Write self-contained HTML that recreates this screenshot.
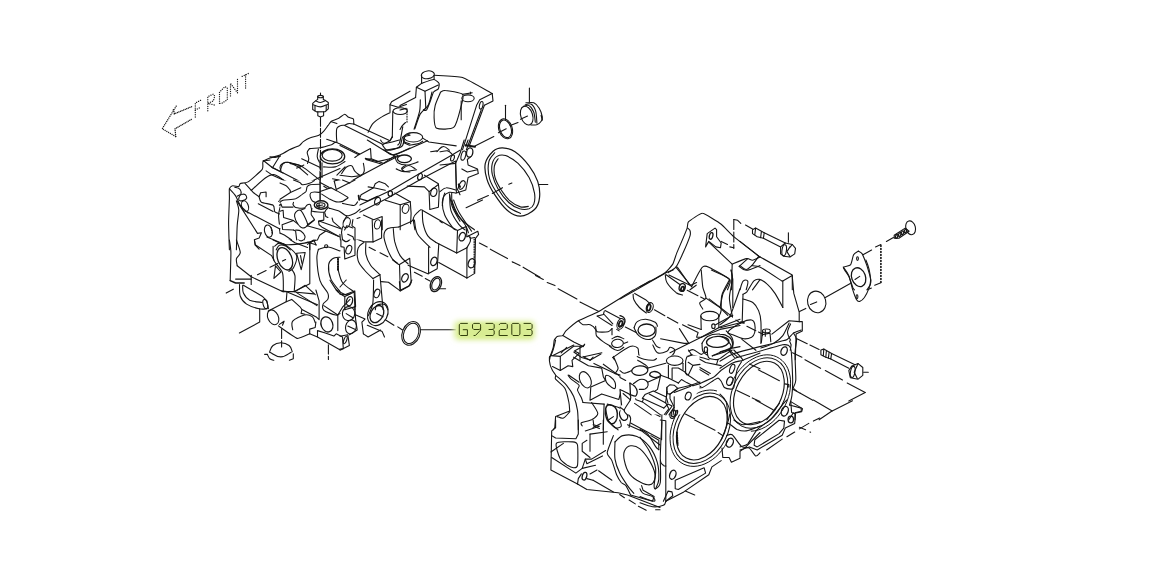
<!DOCTYPE html>
<html><head><meta charset="utf-8"><title>Cylinder Block Diagram</title>
<style>
html,body{margin:0;padding:0;background:#fff;overflow:hidden}
body{width:1153px;height:576px;position:relative;font-family:"Liberation Sans",sans-serif}
svg{position:absolute;left:0;top:0;display:block}
</style></head><body>
<svg width="1153" height="576" viewBox="0 0 1153 576">
<desc>Exploded parts diagram of an engine cylinder block. Labels: FRONT, G93203</desc>
<rect x="0" y="0" width="1153" height="576" fill="#ffffff"/>

<g fill="none" stroke="#151515" stroke-width="1.1" stroke-linecap="round" stroke-linejoin="round">
<path d="M176.2 106.1 L162.2 128.8 L175.8 136.6" stroke-width="1.35" stroke-dasharray="0.1 1.9" stroke="#1a1a1a"/>
<path d="M174.2 113.9 L191.9 106.6" stroke-width="1.35" stroke-dasharray="0.1 1.6" stroke="#1a1a1a"/>
<path d="M175.0 128.8 L191.9 119.1" stroke-width="1.35" stroke-dasharray="0.1 1.6" stroke="#1a1a1a"/>
<path d="M175.8 136.6 L175.0 128.8" stroke-width="1.35" stroke-dasharray="0.1 1.9" stroke="#1a1a1a"/>
<path d="M173.4 109.7 L175.0 114.7" stroke-width="1.35" stroke-dasharray="0.1 1.9" stroke="#1a1a1a"/>
<path d="M195.3 117.0 L195.3 103.0 L201.6 99.8" stroke-width="1.3" stroke-dasharray="0.1 2.1" stroke="#1a1a1a"/>
<path d="M195.3 110.0 L200.3 107.5" stroke-width="1.3" stroke-dasharray="0.1 2.1" stroke="#1a1a1a"/>
<path d="M207.8 110.8 L207.8 96.7 L213.3 94.1 L214.8 96.2 L213.3 100.9 L208.1 103.4 L215.3 105.3" stroke-width="1.3" stroke-dasharray="0.1 2.1" stroke="#1a1a1a"/>
<path d="M219.5 103.4 L219.5 92.0 L225.0 86.6 L227.3 88.1 L227.3 99.8 L222.2 103.0 L219.5 103.4" stroke-width="1.3" stroke-dasharray="0.1 2.1" stroke="#1a1a1a"/>
<path d="M230.5 95.9 L230.5 83.4 L237.5 92.8 L237.5 79.5" stroke-width="1.3" stroke-dasharray="0.1 2.1" stroke="#1a1a1a"/>
<path d="M242.2 76.4 L248.8 73.3" stroke-width="1.3" stroke-dasharray="0.1 2.1" stroke="#1a1a1a"/>
<path d="M245.6 74.8 L245.6 89.4" stroke-width="1.3" stroke-dasharray="0.1 2.1" stroke="#1a1a1a"/>
<path d="M320.5 93.1 L320.5 95.5"/>
<ellipse cx="320.5" cy="96.6" rx="2.8" ry="1.2"/>
<path d="M317.7 96.6 L317.7 99.4 L315.8 100.6 L312.7 103.3 L312.7 109.5 L316.6 111.9 L325.2 111.6 L328.3 108.8 L328.3 102.5 L325.6 100.6 L323.3 99.4 L323.3 96.6"/>
<path d="M313.4 104.8 C314.6 105.2 318.1 107.0 320.5 106.9 C322.8 106.8 326.3 104.8 327.5 104.4"/>
<path d="M315.8 100.9 C316.6 101.2 318.8 102.6 320.5 102.5 C322.1 102.4 324.8 100.9 325.6 100.6"/>
<path d="M315.0 105.9 L315.0 110.9"/>
<path d="M326.2 105.6 L326.2 110.6"/>
<path d="M317.8 111.9 L317.8 115.8 L320.5 116.9 L323.6 115.8 L323.6 111.9"/>
<path d="M320.5 117.3 L320.5 179.1" stroke-dasharray="9 2"/>
<path d="M290.0 149.4 C291.1 148.9 297.8 146.4 299.4 145.5 C300.9 144.6 302.0 142.5 303.3 141.6 C304.6 140.7 308.5 138.4 310.3 137.7 C312.1 136.9 317.4 136.0 318.9 135.3 C320.5 134.6 322.5 132.6 323.6 131.4 C324.7 130.2 327.4 126.3 328.3 125.2 C329.2 124.0 330.2 122.0 331.4 121.2 C332.6 120.5 336.9 119.3 338.4 118.4 C340.0 117.6 343.5 114.3 344.7 114.2 C345.9 114.1 347.6 116.8 348.6 117.3 C349.6 117.9 352.7 118.2 353.3 118.9 C353.9 119.6 353.7 123.0 353.8 123.6"/>
<path d="M336.9 142.3 C336.8 141.3 336.4 136.4 336.4 134.5 C336.4 132.7 336.3 129.5 336.9 128.3 C337.5 127.1 339.7 126.0 340.8 125.6 C341.8 125.2 343.6 125.4 344.7 125.2 C345.7 124.9 347.4 123.7 348.6 123.6 C349.8 123.4 353.1 124.0 353.8 124.1"/>
<path d="M331.4 121.7 L336.9 123.6"/>
<path d="M344.7 125.6 L383.0 144.4"/>
<path d="M353.8 124.1 L390.0 140.8 L392.3 136.9"/>
<ellipse cx="332.5" cy="156.4" rx="12.2" ry="7.5" stroke-width="1.3"/>
<ellipse cx="332.2" cy="155.3" rx="10.0" ry="5.8"/>
<path d="M318.4 149.1 C318.2 150.3 317.0 154.2 317.2 156.4 C317.3 158.6 319.0 161.2 319.4 162.2"/>
<path d="M322.0 162.7 L322.0 177.5"/>
<path d="M323.6 166.9 C325.5 166.9 331.7 167.8 335.3 166.9 C338.9 166.0 343.4 162.4 345.0 161.6"/>
<path d="M309.5 148.6 C310.5 148.5 317.5 148.2 319.7 147.8 C321.9 147.4 329.8 145.2 331.4 144.7 C333.0 144.1 334.5 142.4 335.3 142.3 C336.2 142.3 337.6 142.7 340.0 143.9 C342.4 145.1 357.6 153.0 359.5 154.1"/>
<path d="M365.3 158.4 L377.5 161.6 L390.0 158.8"/>
<path d="M326.7 139.2 L335.6 142.3"/>
<path d="M301.7 158.8 L319.7 167.3"/>
<path d="M309.5 148.6 C309.2 149.1 307.3 151.1 307.2 152.5 C307.1 153.9 308.7 157.3 308.8 158.8 C308.8 160.2 307.7 162.8 307.5 163.4"/>
<path d="M290.0 163.4 C291.2 163.7 297.4 164.6 299.4 165.3 C301.4 166.0 302.2 166.6 304.8 168.4 C307.4 170.3 317.0 177.9 318.9 179.4"/>
<path d="M359.5 154.1 L354.8 157.5"/>
<path d="M336.9 175.2 L345.0 166.9"/>
<path d="M371.2 158.8 L383.8 163.4 L399.4 155.6"/>
<path d="M390.0 111.9 L390.0 104.8 L391.6 101.7 L410.0 91.2"/>
<path d="M390.0 104.8 L398.1 107.2 L406.4 104.4"/>
<ellipse cx="400.2" cy="111.1" rx="7.2" ry="3.4"/>
<path d="M392.8 111.6 L392.3 136.9"/>
<path d="M368.1 132.2 C368.8 131.0 370.9 125.7 372.8 123.6 C374.7 121.5 379.9 118.0 382.2 116.6 C384.5 115.1 389.0 113.2 390.0 112.7"/>
<path d="M392.3 136.9 L390.0 140.8 L383.4 144.2"/>
<path d="M402.8 126.7 C402.5 128.4 401.5 134.1 400.9 136.9 C400.4 139.6 399.9 141.8 399.4 143.1 C398.9 144.5 398.1 144.7 397.8 145.0"/>
<path d="M382.2 144.7 C382.9 145.4 384.9 149.8 387.2 150.2 C389.5 150.5 397.3 148.8 399.4 147.0 C401.5 145.3 401.4 138.6 402.8 136.9 C404.2 135.1 409.0 134.2 410.0 133.8"/>
<path d="M383.8 149.7 C385.0 150.4 389.6 155.1 393.1 154.8 C396.6 154.6 407.8 149.0 410.0 148.1"/>
<path d="M410.0 135.3 C409.1 135.6 405.8 135.8 404.8 136.9 C403.9 137.9 403.2 140.4 404.1 141.6 C404.9 142.7 409.0 143.5 410.0 143.9"/>
<path d="M405.6 165.3 C405.0 165.8 402.0 167.1 401.7 168.1 C401.5 169.1 402.7 170.6 404.1 171.2 C405.4 171.9 409.0 171.9 410.0 172.0"/>
<path d="M390.0 158.8 L397.8 155.6"/>
<ellipse cx="427.8" cy="74.8" rx="6.6" ry="3.9" transform="rotate(-8 427.8 74.8)"/>
<path d="M421.6 75.6 L421.6 83.4"/>
<path d="M434.1 75.6 L434.1 79.5"/>
<path d="M434.4 75.3 C436.7 75.5 457.7 76.0 462.5 77.5 C467.3 79.0 489.7 92.3 492.2 93.6"/>
<path d="M492.2 93.6 L493.0 100.9 L484.4 105.3"/>
<path d="M492.2 93.6 L479.7 99.8 L476.6 105.3 L462.5 149.8"/>
<path d="M481.2 110.0 L466.4 149.8"/>
<path d="M484.4 105.3 L483.1 108.8 L469.5 145.2"/>
<ellipse cx="481.2" cy="105.3" rx="1.7" ry="3.9" transform="rotate(12 481.2 105.3)"/>
<path d="M421.6 83.4 L416.4 87.3 L415.6 97.5"/>
<path d="M421.6 83.4 C422.8 83.0 431.8 79.5 433.6 79.5 C435.3 79.5 438.6 82.5 439.1 83.4 C439.5 84.4 438.8 88.0 438.3 88.9 C437.7 89.8 434.4 90.9 433.6 92.0 C432.8 93.2 431.2 98.8 430.5 100.6 C429.8 102.4 427.3 109.1 426.6 110.0 C425.9 110.9 423.8 110.0 423.4 110.0"/>
<path d="M416.4 87.3 L425.0 91.2 L425.8 108.4 L423.4 110.0"/>
<path d="M425.0 91.2 L438.3 85.0"/>
<path d="M415.6 97.5 L400.0 105.6"/>
<path d="M420.3 99.8 C420.2 101.4 420.4 107.7 419.5 111.6 C418.7 115.5 414.8 126.7 414.1 129.1"/>
<path d="M432.0 92.0 C431.5 93.8 429.7 102.4 428.1 105.3 C426.6 108.2 422.1 110.8 420.3 113.9 C418.5 117.0 415.6 126.8 414.8 128.8"/>
<path d="M440.6 92.0 C441.2 91.8 442.8 90.2 445.3 90.5 C447.9 90.7 460.7 92.5 462.5 94.4 C464.3 96.3 461.9 103.0 460.9 106.9 C459.9 110.7 456.7 124.7 453.9 127.2 C451.1 129.7 439.0 129.4 436.7 128.3 C434.4 127.2 434.2 120.5 434.1 117.8 C433.9 115.1 434.4 108.3 435.2 105.3 C435.9 102.3 440.0 93.6 440.6 92.0"/>
<path d="M462.5 94.4 L472.2 92.8"/>
<path d="M470.3 92.0 L470.6 93.6"/>
<ellipse cx="468.0" cy="98.3" rx="6.2" ry="3.4"/>
<path d="M461.2 100.9 L461.2 119.7"/>
<ellipse cx="505.5" cy="128.8" rx="6.7" ry="10.3" transform="rotate(-18 505.5 128.8)" stroke-width="1.05"/>
<ellipse cx="505.5" cy="128.8" rx="5.6" ry="9.1" transform="rotate(-18 505.5 128.8)"/>
<path d="M505.5 105.3 L505.5 120.2"/>
<path d="M518.0 122.5 L510.2 125.6"/>
<path d="M506.2 128.8 L498.4 132.7"/>
<path d="M493.8 136.6 L475.0 145.9"/>
<ellipse cx="413.3" cy="137.3" rx="9.4" ry="4.7"/>
<path d="M422.7 138.1 L428.9 142.0 L456.2 145.9"/>
<path d="M400.0 110.0 L406.2 108.4"/>
<path d="M407.0 108.8 L407.0 122.5" stroke-dasharray="1 1.5"/>
<path d="M400.0 129.5 C400.4 128.9 401.4 126.8 402.3 125.6 C403.3 124.5 404.9 123.0 405.5 122.5"/>
<path d="M465.6 145.2 L475.0 146.7" stroke-width="2"/>
<path d="M403.9 138.1 L403.9 142.8 L409.4 145.2 L418.8 143.6 L422.7 141.2"/>
<path d="M529.4 88.0 L529.4 102.0"/>
<ellipse cx="526.7" cy="115.6" rx="5.9" ry="9.7" transform="rotate(-18 526.7 115.6)"/>
<path d="M523.6 106.2 C524.5 106.1 527.4 104.6 529.1 105.6 C530.8 106.6 532.7 109.4 533.8 112.2 C534.8 115.0 535.1 120.7 535.3 122.3"/>
<path d="M525.2 104.7 C526.1 104.6 529.2 103.0 530.9 104.1 C532.7 105.1 534.6 107.8 535.6 110.9 C536.6 114.1 536.7 121.1 536.9 123.1"/>
<path d="M525.9 102.8 C527.1 102.8 531.8 102.0 533.8 102.8 C535.7 103.6 537.9 106.2 539.2 108.3 C540.5 110.4 542.0 114.9 542.3 116.9 C542.6 118.8 542.1 120.1 541.2 121.2 C540.4 122.4 538.1 124.1 536.6 124.7 C535.0 125.2 531.8 125.0 530.9 125.0"/>
<path d="M541.2 115.3 L542.3 120.0" stroke-width="1.3"/>
<path d="M527.5 116.1 L520.5 119.2"/>
<path d="M493.1 151.2 C496.0 148.6 498.9 147.7 502.5 147.8 C506.1 147.9 510.6 148.7 515.0 151.7 C519.4 154.7 525.3 160.8 529.1 165.8 C532.8 170.7 535.9 176.1 537.7 181.4 C539.4 186.7 540.1 193.1 539.5 197.8 C539.0 202.5 537.7 206.5 534.5 209.5 C531.4 212.6 525.0 216.0 520.5 216.1 C515.9 216.2 511.5 213.9 507.2 210.3 C502.9 206.7 498.1 199.9 494.7 194.7 C491.3 189.5 488.4 184.3 486.9 179.1 C485.3 173.9 484.3 168.1 485.3 163.4 C486.4 158.8 490.3 153.9 493.1 151.2 Z" stroke-width="1.2"/>
<path d="M494.7 152.8 C493.7 154.3 489.6 157.5 488.8 161.9 C487.9 166.2 488.1 173.6 489.7 179.1 C491.2 184.5 494.9 190.0 498.1 194.7 C501.3 199.4 505.0 204.1 508.8 207.2 C512.5 210.3 518.5 212.4 520.5 213.4"/>
<path d="M497.0 156.4 C499.2 155.1 502.1 154.5 505.6 155.6 C509.1 156.8 514.2 159.8 518.1 163.4 C522.0 167.1 526.3 172.6 529.1 177.5 C531.8 182.4 533.8 188.7 534.5 193.1 C535.3 197.6 534.7 201.5 533.8 204.1 C532.8 206.7 531.4 208.0 529.1 208.8 C526.7 209.5 523.1 209.8 519.7 208.8 C516.3 207.7 512.4 205.9 508.8 202.5 C505.1 199.1 500.5 193.1 497.8 188.4 C495.1 183.8 493.3 178.5 492.3 174.4 C491.4 170.2 491.6 166.4 492.3 163.4 C493.1 160.4 494.8 157.7 497.0 156.4 Z"/>
<path d="M498.1 158.8 C497.5 159.9 494.9 162.7 494.4 165.8 C493.9 168.9 493.9 173.5 495.0 177.5 C496.1 181.5 498.7 186.0 501.2 190.0 C503.8 194.0 507.1 198.4 510.3 201.2 C513.5 204.1 517.5 206.0 520.5 206.9 C523.5 207.7 527.0 206.5 528.3 206.4"/>
<path d="M539.2 184.5 L547.8 184.5"/>
<path d="M511.9 183.0 L508.8 184.2"/>
<path d="M502.5 187.7 L492.3 193.4"/>
<path d="M488.4 195.5 L477.5 200.2"/>
<path d="M468.1 140.0 L465.8 146.2"/>
<ellipse cx="469.7" cy="152.5" rx="3.1" ry="4.7" transform="rotate(10 469.7 152.5)" stroke-width="1.3"/>
<ellipse cx="463.4" cy="155.6" rx="2.2" ry="4.7" transform="rotate(15 463.4 155.6)"/>
<ellipse cx="452.5" cy="158.0" rx="1.7" ry="3.1" transform="rotate(20 452.5 158.0)"/>
<path d="M440.0 151.7 C441.3 151.6 445.8 150.5 447.8 150.9 C449.8 151.4 451.5 153.8 452.2 154.4"/>
<path d="M464.2 140.0 L460.3 152.5 L455.6 163.4 L456.4 193.1 L465.8 190.0 L468.1 177.5 L478.3 173.6 L477.5 168.9 L468.1 165.0 L467.3 159.5 L471.2 156.4"/>
<path d="M440.0 165.0 L455.6 163.4"/>
<path d="M461.9 168.9 L467.3 172.0 L477.5 169.7"/>
<ellipse cx="461.9" cy="185.0" rx="2.5" ry="4.7" transform="rotate(30 461.9 185.0)"/>
<path d="M440.0 191.6 C441.0 190.9 443.6 187.9 446.2 187.7 C448.9 187.4 454.1 189.6 455.6 190.0"/>
<path d="M451.7 193.1 C451.8 194.7 451.1 198.3 452.5 202.5 C453.9 206.7 456.7 213.6 460.3 218.1 C464.0 222.7 472.0 227.9 474.4 229.8"/>
<path d="M449.7 194.7 C449.9 197.3 449.4 205.4 450.9 210.3 C452.4 215.3 456.4 221.1 458.8 224.4 C461.1 227.6 464.0 228.9 465.0 229.8"/>
<path d="M444.7 193.1 C444.3 194.7 442.3 198.9 442.3 202.5 C442.3 206.1 443.0 210.8 444.7 215.0 C446.4 219.2 450.7 225.0 452.5 227.5 C454.3 230.0 455.1 229.5 455.6 229.8"/>
<path d="M440.0 221.2 L442.3 222.8"/>
<path d="M340.0 145.5 L358.8 154.8 L370.5 148.6 L371.2 158.8 L365.8 159.5 L382.2 164.2"/>
<path d="M367.3 140.0 L383.8 150.2 L393.9 155.6"/>
<path d="M380.6 140.0 C381.3 140.6 381.4 143.4 384.5 143.4 C387.7 143.4 396.9 140.6 399.4 140.0"/>
<path d="M385.3 150.2 C387.9 149.6 397.8 148.7 400.9 147.0 C404.1 145.3 403.5 141.2 404.1 140.0"/>
<path d="M393.9 155.6 L415.0 146.2 L427.5 140.8"/>
<path d="M341.6 173.6 C342.3 172.6 344.6 168.6 346.2 167.3 C347.9 166.0 350.3 165.1 351.7 165.8 C353.2 166.4 353.4 169.7 354.8 171.2 C356.3 172.8 358.8 175.2 360.3 175.2 C361.9 175.2 363.7 173.2 364.2 171.2 C364.7 169.3 363.6 164.7 363.4 163.4"/>
<path d="M340.0 175.2 L351.7 176.7 L361.1 175.6 L382.2 164.2 L393.9 156.4"/>
<path d="M340.0 187.7 L361.1 175.6"/>
<ellipse cx="404.4" cy="158.8" rx="7.0" ry="3.8" stroke-width="1.3"/>
<path d="M402.5 168.9 C403.8 168.2 406.2 165.5 408.8 165.5 C411.3 165.5 414.0 168.2 415.3 168.9"/>
<path d="M436.9 151.7 C438.1 150.7 440.6 146.9 443.1 146.6 C445.6 146.2 448.1 149.4 449.4 150.2"/>
<path d="M394.7 156.4 C395.2 157.4 395.7 161.2 397.8 162.7 C399.9 164.1 403.8 165.1 407.2 165.0 C410.6 164.9 416.3 162.4 418.1 161.9"/>
<path d="M396.2 168.9 C397.6 169.3 400.7 171.4 404.1 171.6 C407.4 171.7 414.5 170.0 416.6 169.7"/>
<path d="M430.6 151.7 L436.9 150.9"/>
<path d="M349.4 209.5 L360.3 204.8 L391.6 190.0 L419.7 173.6 L449.4 156.4 L460.0 150.2"/>
<path d="M357.2 213.4 L386.9 198.6 L421.2 179.1 L455.6 161.1 L456.4 186.9 L460.0 194.7"/>
<ellipse cx="420.0" cy="176.7" rx="2.2" ry="3.4" transform="rotate(20 420.0 176.7)"/>
<ellipse cx="390.3" cy="193.6" rx="2.2" ry="2.7" stroke-width="1.3"/>
<ellipse cx="377.5" cy="201.2" rx="2.7" ry="3.9" transform="rotate(20 377.5 201.2)"/>
<path d="M359.5 198.6 L361.1 194.7 L373.6 187.7 L375.2 183.8 L379.1 181.4 L385.3 183.8 L388.4 186.9"/>
<path d="M368.1 186.9 L373.6 187.7 L385.3 190.3"/>
<path d="M359.5 198.6 L367.3 200.9 L377.5 196.2"/>
<path d="M340.0 193.1 L347.0 197.0 L341.6 202.5"/>
<path d="M347.0 197.0 L340.0 200.5"/>
<path d="M407.2 186.1 L424.4 186.9 L429.1 191.6 L429.8 209.5 L438.4 207.2 L439.2 192.3 L438.4 183.8 L424.4 175.2"/>
<path d="M429.1 191.6 L438.4 184.5"/>
<ellipse cx="433.8" cy="192.3" rx="3.0" ry="4.2" transform="rotate(15 433.8 192.3)"/>
<path d="M394.7 193.1 L410.3 201.7 L411.1 213.4 L410.6 223.6"/>
<path d="M385.3 200.2 L400.2 204.8 L410.3 201.7"/>
<path d="M400.2 204.8 L400.2 229.8"/>
<ellipse cx="405.6" cy="208.8" rx="3.3" ry="4.7" transform="rotate(15 405.6 208.8)"/>
<path d="M363.4 215.0 L373.6 219.7 L382.2 216.6 L382.2 229.8"/>
<ellipse cx="377.5" cy="224.4" rx="3.0" ry="4.7" transform="rotate(12 377.5 224.4)"/>
<ellipse cx="347.0" cy="223.6" rx="3.3" ry="5.5" transform="rotate(15 347.0 223.6)"/>
<path d="M340.0 218.1 C341.0 217.9 343.6 217.1 346.2 216.6 C348.9 216.0 354.1 215.3 355.6 215.0"/>
<path d="M355.6 215.0 L355.6 221.2 L349.4 229.8"/>
<path d="M442.3 205.6 C442.6 204.1 442.7 198.5 443.9 196.2 C445.1 194.0 447.4 192.9 449.4 192.3 C451.3 191.8 454.6 193.0 455.6 193.1"/>
<path d="M449.4 193.9 C449.9 196.1 450.7 202.6 452.5 207.2 C454.3 211.7 458.8 218.9 460.0 221.2"/>
<path d="M415.0 229.8 C414.7 227.9 412.9 221.1 413.4 218.1 C414.0 215.1 416.8 213.3 418.1 211.9 C419.4 210.4 420.7 209.9 421.2 209.5"/>
<path d="M458.8 184.5 L460.0 186.9" stroke-width="2"/>
<path d="M229.4 249.8 C229.3 247.1 228.6 227.6 228.6 222.5 C228.6 217.4 229.3 202.4 229.4 199.1 C229.5 195.7 229.1 190.2 229.4 188.9 C229.7 187.6 231.6 186.0 232.5 185.8 C233.4 185.5 238.0 186.8 238.8 186.6 C239.5 186.3 239.4 183.9 240.3 183.4 C241.2 183.0 245.9 183.3 248.1 181.9 C250.3 180.5 260.7 171.4 262.2 169.4 C263.7 167.3 262.2 162.5 263.0 161.6 C263.8 160.6 269.3 160.2 270.0 160.0"/>
<path d="M236.4 249.8 C236.5 246.6 236.9 230.9 237.2 225.6 C237.5 220.3 238.9 213.3 238.8 210.0 C238.6 206.7 236.7 202.1 236.4 200.9"/>
<path d="M229.4 188.9 C230.2 189.8 234.2 193.8 235.6 195.9 C237.1 198.1 238.6 203.0 240.3 205.3 C242.0 207.6 247.1 212.1 248.1 213.1"/>
<path d="M234.8 187.3 C235.6 187.6 238.5 187.9 239.5 188.9 C240.6 189.9 241.5 192.4 241.1 193.6 C240.7 194.8 237.8 195.8 237.2 196.2"/>
<path d="M240.3 195.2 C241.4 194.2 244.0 193.9 245.0 194.4 C246.0 194.9 247.0 197.2 246.6 198.3 C246.2 199.3 244.0 200.4 242.7 200.6 C241.4 200.9 239.1 200.8 238.8 199.8 C238.4 198.9 239.3 196.1 240.3 195.2 Z"/>
<ellipse cx="245.0" cy="206.1" rx="3.3" ry="5.5" transform="rotate(-20 245.0 206.1)"/>
<path d="M245.0 183.4 L253.6 192.8 L259.1 196.7 L260.6 192.8 L266.1 192.0 L266.1 196.7"/>
<path d="M259.1 196.7 C259.4 197.4 259.5 201.0 261.4 202.2 C263.3 203.3 271.4 204.1 273.1 205.3 C274.9 206.6 273.9 210.4 274.7 211.6 C275.5 212.7 278.8 213.6 279.4 213.9"/>
<path d="M258.3 203.8 L273.1 211.6"/>
<path d="M251.2 190.5 C253.1 188.8 262.2 180.1 265.3 178.0 C268.4 175.9 271.8 174.1 274.7 174.8 C277.6 175.6 285.1 181.1 287.2 183.4 C289.3 185.7 289.9 190.9 290.3 192.0"/>
<path d="M266.1 170.9 L273.1 175.6 L301.2 188.1"/>
<path d="M271.6 167.0 L305.2 184.2 L320.0 177.2 L340.0 168.6"/>
<path d="M280.9 170.9 C280.8 170.2 279.4 167.7 280.2 166.2 C280.9 164.8 283.2 162.7 285.6 162.3 C288.1 162.0 292.4 163.3 295.0 163.9 C297.6 164.6 301.0 165.5 301.2 166.2 C301.5 167.0 297.3 167.8 296.6 168.1"/>
<path d="M320.0 160.0 L320.0 192.0" stroke-dasharray="9 2"/>
<path d="M278.6 201.4 L301.2 188.1 L305.2 185.0"/>
<path d="M279.4 205.3 C280.8 204.6 289.0 200.4 291.9 199.1 C294.8 197.7 302.6 195.1 304.4 193.6 C306.2 192.1 306.4 187.7 307.5 186.6 C308.6 185.5 312.3 184.4 313.8 184.2 C315.2 184.0 319.3 184.9 320.0 185.0"/>
<ellipse cx="320.8" cy="205.3" rx="7.8" ry="5.3" stroke-width="1.3"/>
<ellipse cx="320.3" cy="205.0" rx="4.7" ry="2.7"/>
<path d="M320.0 192.8 L320.0 201.9" stroke-width="1.3"/>
<path d="M316.9 211.2 L316.9 213.4"/>
<path d="M323.1 212.3 L323.1 220.2"/>
<path d="M313.8 202.2 L310.6 199.1 L310.6 193.6 L315.3 192.0 L320.0 192.0"/>
<path d="M280.9 203.0 C281.1 203.5 280.8 206.9 282.5 206.9 C284.2 206.9 291.9 203.0 293.4 203.0 C295.0 203.0 293.4 206.1 294.2 206.9 C295.1 207.6 298.0 208.6 299.7 208.4 C301.4 208.2 305.3 205.6 306.7 205.3 C308.2 205.0 310.1 206.0 310.6 206.1"/>
<path d="M280.2 206.9 C279.9 208.2 278.7 211.8 278.6 214.7 C278.5 217.6 279.2 222.5 279.4 224.1"/>
<path d="M283.3 210.0 L283.3 217.8 L292.7 220.2 L282.5 224.1 L282.5 229.5 L293.4 228.8"/>
<path d="M295.0 213.1 C295.5 211.2 299.6 210.7 301.2 210.0 C302.9 209.3 304.3 208.0 305.9 208.4 C307.6 208.9 310.8 211.5 312.2 213.1 C313.6 214.8 316.0 217.7 315.3 219.4 C314.6 221.0 309.1 222.9 307.5 224.1 C305.9 225.2 305.8 227.4 304.4 227.2 C303.0 227.0 299.5 224.6 298.1 222.5 C296.7 220.4 294.5 215.0 295.0 213.1 Z"/>
<path d="M300.5 210.8 C301.4 212.3 305.2 217.4 305.9 220.2 C306.7 222.9 305.3 226.0 305.2 227.2"/>
<path d="M246.6 211.6 L279.4 228.8 L293.4 228.8 L304.4 233.4 L327.8 229.5"/>
<path d="M237.2 201.4 L257.5 233.4 L261.4 232.7 L259.1 238.1 L254.4 239.7 L255.2 245.2 L259.1 249.1"/>
<ellipse cx="268.4" cy="231.1" rx="3.8" ry="6.2" transform="rotate(-15 268.4 231.1)"/>
<path d="M270.8 227.2 L272.3 233.4" stroke-dasharray="1 1.5"/>
<path d="M279.4 228.8 L280.2 233.4 L295.0 242.8 L307.5 247.5"/>
<path d="M266.9 236.9 L285.6 244.7"/>
<ellipse cx="299.7" cy="235.0" rx="3.8" ry="6.2" transform="rotate(-25 299.7 235.0)"/>
<path d="M307.5 244.4 C309.1 243.3 314.8 239.9 316.9 238.1 C319.0 236.3 319.5 234.2 320.0 233.4"/>
<path d="M309.8 249.8 L309.8 242.8 L313.8 239.7 L316.1 245.2"/>
<path d="M320.0 220.9 L326.2 220.2 L340.0 227.2"/>
<path d="M318.4 222.5 L321.6 227.2 L340.0 236.6"/>
<path d="M320.0 193.6 L340.0 202.2"/>
<path d="M323.1 191.2 L340.0 199.1"/>
<path d="M321.6 187.3 L329.4 189.7"/>
<path d="M332.5 178.8 L340.0 180.3"/>
<path d="M335.6 180.3 L336.4 188.1"/>
<path d="M340.0 206.9 L329.4 205.3"/>
<path d="M327.8 214.7 L340.0 220.9"/>
<path d="M332.5 219.4 C333.0 220.2 334.4 223.0 335.6 224.1 C336.9 225.1 339.3 225.4 340.0 225.6"/>
<path d="M276.2 249.8 C276.8 249.1 277.8 245.8 279.4 245.2 C280.9 244.5 283.8 245.2 285.6 245.9 C287.4 246.7 289.5 249.2 290.3 249.8"/>
<path d="M263.0 161.0 C263.9 160.6 267.7 158.8 270.0 158.0 C272.3 157.2 277.3 156.1 280.0 155.0 C282.7 153.9 288.7 150.2 290.0 149.5"/>
<path d="M263.4 160.5 L272.5 167.7 L283.0 173.0"/>
<path d="M279.0 157.3 L272.5 167.7"/>
<path d="M280.4 170.3 C280.7 169.4 281.8 164.8 283.0 163.8 C284.2 162.8 287.4 162.1 289.5 162.5 C291.6 162.9 296.7 166.7 298.6 167.0 C300.5 167.3 303.1 165.3 303.8 165.0"/>
<path d="M298.6 167.0 L307.7 174.9"/>
<path d="M270.0 156.8 L275.0 157.4 L280.4 156.0" stroke-width="1.3"/>
<path d="M229.4 240.0 C229.5 241.2 230.9 248.4 230.9 252.5 C231.0 256.6 230.2 277.8 230.2 280.6"/>
<path d="M230.2 280.6 L235.6 283.0 L244.2 283.0" stroke-width="1.4"/>
<path d="M236.4 240.0 C236.9 241.7 240.3 250.0 240.3 252.5 C240.3 255.0 236.8 257.0 236.4 258.8 C236.0 260.5 237.1 264.8 237.2 265.8"/>
<path d="M237.2 265.8 L251.2 276.7 L282.5 291.6 L295.0 291.6 L316.9 305.6"/>
<path d="M235.6 279.1 L251.2 279.1"/>
<path d="M251.2 275.2 L251.2 284.5"/>
<path d="M239.5 284.5 C239.7 286.5 239.1 293.0 240.3 296.2 C241.5 299.5 243.4 302.0 246.6 304.1 C249.7 306.1 255.7 308.0 259.1 308.8 C262.4 309.5 265.6 308.8 266.9 308.8"/>
<path d="M242.7 285.3 C242.8 286.6 242.3 290.7 243.4 293.1 C244.6 295.6 246.6 298.6 249.7 300.2 C252.8 301.7 260.1 302.1 262.2 302.5"/>
<path d="M243.4 285.3 L262.2 296.2 L266.9 300.9 L268.4 308.8"/>
<ellipse cx="265.3" cy="304.1" rx="2.2" ry="4.7" transform="rotate(-15 265.3 304.1)"/>
<path d="M285.6 259.5 L282.5 261.1"/>
<path d="M277.8 263.4 L270.0 267.3"/>
<path d="M266.1 270.5 L257.5 274.7"/>
<path d="M233.3 289.2 L226.2 293.1"/>
<ellipse cx="284.8" cy="258.8" rx="7.0" ry="11.7" transform="rotate(-22 284.8 258.8)" stroke-width="1.3"/>
<path d="M273.1 246.2 C273.2 248.1 272.7 256.8 273.9 260.3 C275.2 263.9 281.2 268.6 282.5 272.8 C283.8 277.0 283.2 289.1 283.3 291.6"/>
<path d="M274.7 246.2 C275.5 245.7 277.3 243.1 279.4 243.1 C281.5 243.1 284.3 244.2 287.2 246.2 C290.1 248.3 295.5 252.0 296.6 255.6 C297.6 259.3 294.7 265.5 293.4 268.1 C292.1 270.7 289.5 270.7 288.8 271.2"/>
<path d="M291.9 269.7 C292.4 270.7 294.6 272.3 295.0 275.9 C295.4 279.6 294.3 289.0 294.2 291.6"/>
<path d="M296.6 253.3 L305.2 252.5 L301.2 269.7 Z"/>
<path d="M300.5 255.6 L302.0 263.4"/>
<path d="M273.9 278.3 L275.5 265.8 L280.9 272.0 Z"/>
<path d="M254.4 240.0 L255.2 244.7 L271.6 255.6 L273.9 260.3"/>
<path d="M309.8 243.1 L309.8 283.8 L294.2 291.6"/>
<path d="M295.0 291.6 L305.2 285.3 L315.3 294.7"/>
<path d="M296.6 292.3 L313.8 293.9"/>
<ellipse cx="273.1" cy="317.3" rx="5.2" ry="7.8" transform="rotate(-25 273.1 317.3)"/>
<path d="M279.4 324.4 L284.1 321.2 L282.5 325.2"/>
<path d="M292.7 329.8 C292.7 328.4 290.7 323.7 292.7 321.2 C294.6 318.8 301.1 315.8 304.4 315.0 C307.6 314.2 310.4 315.3 312.2 316.6 C314.0 317.9 314.8 321.8 315.3 322.8"/>
<path d="M318.4 249.4 C318.2 250.9 316.6 253.5 316.9 258.8 C317.1 264.0 318.2 274.9 320.0 280.6 C321.8 286.4 326.5 290.0 327.8 293.1 C329.1 296.2 328.6 297.6 327.8 299.4 C327.0 301.2 323.8 302.2 323.1 304.1 C322.5 305.9 321.8 308.5 323.9 310.3 C326.0 312.1 332.9 314.5 335.6 315.0 C338.3 315.5 339.3 313.7 340.0 313.4"/>
<path d="M318.4 249.4 C320.0 249.0 324.2 246.8 327.8 247.0 C331.4 247.3 338.0 250.3 340.0 250.9"/>
<ellipse cx="326.2" cy="246.2" rx="1.6" ry="1.4"/>
<path d="M340.0 257.2 C338.8 257.4 334.4 257.4 332.5 258.8 C330.6 260.1 328.9 261.6 328.6 265.0 C328.3 268.4 329.0 274.6 330.9 279.1 C332.8 283.5 338.5 289.5 340.0 291.6"/>
<path d="M338.0 258.8 L338.0 269.7" stroke-width="2" stroke-dasharray="1 1.5"/>
<path d="M273.1 240.0 C274.8 240.6 281.5 244.3 285.6 244.7 C289.8 245.1 300.2 243.8 304.4 243.1 C308.5 242.5 315.2 240.4 316.9 240.0"/>
<path d="M307.5 242.3 L316.1 244.7"/>
<path d="M355.0 220.0 L355.0 255.2 L344.8 259.1 L344.1 247.3 L340.9 246.6 L340.9 235.6 L345.6 224.7 L345.6 220.0"/>
<ellipse cx="348.0" cy="233.3" rx="4.7" ry="8.6" transform="rotate(20 348.0 233.3)" stroke-width="1.3"/>
<ellipse cx="348.8" cy="249.7" rx="2.7" ry="4.4" transform="rotate(20 348.8 249.7)"/>
<path d="M330.0 224.7 L339.4 227.0"/>
<path d="M372.2 220.0 L373.0 241.9 L381.6 238.0 L381.6 220.0"/>
<path d="M355.8 238.8 L364.4 241.9 L373.0 241.9"/>
<path d="M363.6 242.7 C362.7 243.6 359.0 245.1 358.1 248.1 C357.2 251.1 357.1 257.0 358.1 260.6 C359.2 264.3 361.9 267.0 364.4 270.0 C366.8 273.0 371.5 277.2 373.0 278.6"/>
<path d="M365.9 242.7 C365.9 244.6 365.2 250.6 365.9 254.4 C366.7 258.2 368.3 261.9 370.6 265.3 C373.0 268.7 378.4 273.1 380.0 274.7"/>
<path d="M373.0 278.6 L380.0 274.7 L381.6 293.4 L383.1 309.8"/>
<ellipse cx="376.9" cy="293.4" rx="2.7" ry="4.4" transform="rotate(20 376.9 293.4)"/>
<path d="M398.8 227.0 C396.9 227.3 390.3 227.2 387.8 228.6 C385.3 230.0 384.0 232.4 383.9 235.6 C383.8 238.9 385.6 244.2 387.0 248.1 C388.5 252.0 390.5 256.3 392.5 259.1 C394.5 261.8 397.7 263.6 398.8 264.5"/>
<path d="M393.3 228.6 C393.5 230.8 393.7 237.3 394.8 241.9 C396.0 246.4 398.1 252.3 400.3 255.9 C402.5 259.6 406.8 262.4 408.1 263.8"/>
<path d="M398.8 227.0 L411.2 221.6 L412.8 220.0"/>
<path d="M399.5 264.5 L409.7 258.3 L411.2 282.5 L409.7 285.6 L400.3 290.3 Z"/>
<ellipse cx="405.0" cy="277.8" rx="3.0" ry="4.4" transform="rotate(25 405.0 277.8)" stroke-width="1.3"/>
<path d="M414.4 220.0 C414.9 222.3 414.9 229.5 417.5 234.1 C420.1 238.6 427.9 245.1 430.0 247.3"/>
<ellipse cx="433.9" cy="261.4" rx="3.0" ry="4.4" transform="rotate(20 433.9 261.4)" stroke-width="1.3"/>
<path d="M408.1 265.3 L428.4 273.9"/>
<path d="M369.1 247.3 L375.3 250.5"/>
<path d="M380.0 252.8 L387.8 256.7"/>
<path d="M392.5 259.8 L397.2 263.0"/>
<path d="M414.4 272.3 L422.2 276.2"/>
<path d="M425.3 278.6 L430.0 280.9"/>
<ellipse cx="435.9" cy="284.1" rx="5.3" ry="7.8" transform="rotate(22 435.9 284.1)" stroke-width="1.3"/>
<ellipse cx="435.9" cy="284.1" rx="3.8" ry="6.2" transform="rotate(22 435.9 284.1)"/>
<path d="M439.4 288.8 L445.6 288.8"/>
<path d="M337.8 268.4 C338.6 270.8 339.8 278.6 342.5 282.5 C345.2 286.4 352.3 290.3 354.2 291.9"/>
<path d="M330.0 280.2 C331.3 282.1 335.3 289.1 337.8 291.9 C340.3 294.6 343.7 295.8 344.8 296.6"/>
<path d="M344.8 309.8 L344.8 296.6 L354.2 291.9 L355.0 309.8"/>
<ellipse cx="349.5" cy="301.2" rx="3.0" ry="4.7" transform="rotate(15 349.5 301.2)" stroke-width="1.3"/>
<path d="M375.3 309.8 C375.6 309.1 375.3 306.1 376.9 305.2 C378.4 304.2 382.9 303.6 384.7 304.4 C386.5 305.2 387.3 308.9 387.8 309.8"/>
<path d="M422.3 210.2 L457.5 230.5 L466.1 226.6 L466.9 236.7"/>
<path d="M422.3 210.2 C422.5 212.4 422.2 219.1 423.1 223.4 C424.0 227.7 425.7 232.8 427.8 235.9 C429.9 239.1 434.3 241.1 435.6 242.2"/>
<path d="M435.6 242.2 L456.7 253.1 L466.9 247.7"/>
<path d="M466.9 247.7 C467.4 246.6 469.8 243.2 470.3 241.4 C470.8 239.6 470.1 237.5 470.0 236.7"/>
<path d="M457.5 230.5 L456.7 253.1"/>
<ellipse cx="462.2" cy="236.7" rx="3.0" ry="4.4" transform="rotate(20 462.2 236.7)" stroke-width="1.3"/>
<path d="M451.2 200.0 C452.0 202.1 453.6 208.3 455.9 212.5 C458.3 216.7 463.2 221.6 465.3 225.0 C467.4 228.4 467.9 231.5 468.4 232.8"/>
<path d="M453.6 200.0 C454.5 202.1 456.1 207.3 459.1 212.5 C462.1 217.7 469.5 228.1 471.6 231.2"/>
<path d="M466.9 236.7 L477.8 231.2 L478.6 234.4 L475.5 238.3 L474.7 273.4 L466.9 278.1 L466.9 247.7"/>
<path d="M468.4 235.9 L470.8 238.3 L474.7 237.5"/>
<path d="M474.2 239.1 L474.2 272.7" stroke-width="1.3" stroke-dasharray="1 1.5"/>
<ellipse cx="471.6" cy="263.3" rx="3.3" ry="4.7" transform="rotate(20 471.6 263.3)" stroke-width="1.3"/>
<path d="M428.6 246.9 L428.6 273.4 L437.2 268.8 L438.8 243.8"/>
<path d="M438.8 262.5 L466.9 278.1"/>
<path d="M466.1 207.8 L482.5 200.0"/>
<path d="M479.4 243.0 L487.2 246.9"/>
<path d="M490.3 249.2 L507.5 258.6"/>
<path d="M512.2 261.7 L520.0 265.6"/>
<path d="M523.1 267.2 L540.0 277.3"/>
<path d="M259.7 308.8 L259.7 322.0 L239.4 333.0"/>
<path d="M268.3 311.1 L286.2 301.7 L287.0 291.6 L281.6 290.8"/>
<path d="M278.4 325.9 C279.7 326.8 295.1 337.9 297.2 338.4 C299.3 339.0 308.9 334.1 309.7 333.8"/>
<path d="M309.7 333.8 L309.7 329.1 L315.2 327.5 L315.9 322.0"/>
<path d="M286.2 301.7 L291.7 299.4 L300.3 307.2 L301.9 309.5 L316.7 317.3 L319.1 319.7 L319.1 300.9 L315.9 290.0"/>
<path d="M301.9 309.5 L301.1 313.4 L305.0 314.2"/>
<path d="M287.8 292.3 L317.5 304.8"/>
<path d="M281.6 329.1 L281.6 338.4"/>
<path d="M281.6 340.8 L281.6 347.0"/>
<path d="M328.4 344.7 L328.4 354.1"/>
<path d="M328.4 356.4 L328.4 359.5"/>
<path d="M269.5 352.2 C270.3 350.6 270.3 347.7 273.0 345.5 C275.6 343.3 277.0 342.8 280.8 342.8 C284.5 342.8 286.4 343.4 289.1 345.5 C291.7 347.5 291.5 350.3 292.2 351.7"/>
<path d="M270.3 352.5 C272.8 353.5 275.9 356.9 280.8 356.9 C285.7 356.8 288.8 353.3 291.2 352.2"/>
<path d="M267.5 354.8 C267.9 355.5 268.8 357.8 269.8 358.8 C270.9 359.7 273.1 360.1 273.8 360.3"/>
<path d="M293.3 353.8 L293.3 358.8 L289.4 360.3"/>
<path d="M264.7 354.4 L267.5 354.4"/>
<ellipse cx="326.9" cy="324.4" rx="5.8" ry="7.8" transform="rotate(-20 326.9 324.4)" stroke-width="1.3"/>
<path d="M317.5 330.6 L317.5 336.9 L339.4 349.4 L343.3 348.6 L342.5 336.9 L336.2 333.8 L333.9 336.1 L325.3 333.0 Z"/>
<path d="M309.7 333.8 L317.5 336.9"/>
<ellipse cx="345.3" cy="340.0" rx="1.4" ry="3.9" transform="rotate(20 345.3 340.0)"/>
<path d="M323.8 305.6 L337.8 315.0 L342.5 307.2 L350.0 299.4"/>
<path d="M337.8 315.0 L337.8 330.6"/>
<path d="M336.2 290.0 C337.8 290.8 343.3 294.0 345.6 294.7 C347.9 295.3 349.3 294.0 350.0 293.9"/>
<ellipse cx="411.1" cy="333.4" rx="8.8" ry="12.3" transform="rotate(22 411.1 333.4)" stroke-width="1.05"/>
<ellipse cx="411.1" cy="333.4" rx="7.2" ry="10.6" transform="rotate(22 411.1 333.4)" stroke-width="1"/>
<path d="M420.5 329.7 L455.6 329.7"/>
<ellipse cx="377.8" cy="313.6" rx="9.7" ry="12.5" transform="rotate(28 377.8 313.6)"/>
<ellipse cx="376.9" cy="314.1" rx="6.2" ry="9.1" transform="rotate(28 376.9 314.1)" stroke-width="1.3"/>
<path d="M376.7 313.6 L383.0 316.7"/>
<path d="M373.6 280.0 C373.5 283.1 373.5 298.6 372.8 303.4 C372.1 308.2 368.8 314.3 368.1 315.9"/>
<path d="M381.4 281.6 L388.4 282.3 L400.2 290.9 L408.8 286.2 L411.9 280.0"/>
<path d="M399.4 281.6 L400.2 290.9"/>
<path d="M385.3 319.8 L393.9 325.3"/>
<path d="M397.8 326.9 L402.5 330.0"/>
<path d="M367.3 325.3 L382.2 331.6 L384.5 337.0"/>
<path d="M363.4 333.9 L368.1 337.0 L380.6 330.0"/>
<path d="M354.8 314.4 L365.0 319.1 L361.9 322.2 L363.4 333.9"/>
<ellipse cx="348.6" cy="313.6" rx="6.2" ry="7.0" transform="rotate(10 348.6 313.6)"/>
<ellipse cx="350.9" cy="326.9" rx="5.3" ry="7.0" transform="rotate(15 350.9 326.9)"/>
<path d="M340.0 294.1 L344.7 294.8 L354.8 290.9 L355.6 306.6 L344.7 309.7"/>
<path d="M340.0 287.0 L346.2 280.0"/>
<path d="M340.0 336.2 L347.8 334.7 L349.4 345.6 L340.0 350.3"/>
<path d="M354.8 306.6 L355.6 319.1 L357.2 330.0 L349.4 334.7"/>
<path d="M346.2 313.6 L352.5 317.5"/>
<path d="M347.8 326.1 L354.8 329.2"/>
<path d="M535.5 275.5 L543.3 279.4"/>
<path d="M547.2 282.5 L555.0 285.6"/>
<path d="M558.1 288.8 L576.9 298.9"/>
<path d="M580.0 302.0 L598.8 311.4"/>
<path d="M625.3 327.0 L636.2 332.5"/>
<path d="M650.0 280.9 C648.9 281.6 636.5 288.3 633.1 290.3 C629.7 292.3 602.4 309.4 598.8 311.4 C595.1 313.4 580.6 319.5 578.4 320.8 C576.2 322.1 567.0 329.9 565.9 330.9 C564.9 331.9 563.4 335.3 562.8 335.6 C562.2 336.0 557.9 336.1 557.3 336.4 C556.8 336.7 554.5 339.6 554.2 340.3 C554.0 341.0 553.7 345.5 553.4 346.6 C553.2 347.6 550.6 355.1 550.3 355.9 C550.1 356.8 549.6 359.6 549.5 359.8"/>
<path d="M578.4 320.8 C579.1 321.3 581.6 324.2 583.1 324.7 C584.7 325.2 588.5 324.1 590.2 324.7 C591.8 325.3 594.8 327.9 595.6 329.4 C596.5 330.8 595.4 334.0 596.4 335.6 C597.4 337.3 601.5 340.4 603.4 341.9 C605.4 343.3 610.2 345.9 611.2 346.6"/>
<path d="M595.6 326.2 C595.8 327.0 595.5 331.0 597.2 331.7 C598.9 332.4 606.1 332.1 608.1 331.7 C610.1 331.3 611.5 329.0 612.0 328.6"/>
<path d="M612.0 328.6 L612.0 334.8"/>
<path d="M597.2 316.1 L603.4 314.5 L604.2 311.4"/>
<path d="M597.2 316.1 L612.0 325.5"/>
<path d="M604.2 314.5 L612.8 323.9"/>
<path d="M605.0 310.6 L620.6 318.8"/>
<ellipse cx="620.6" cy="323.9" rx="3.3" ry="5.5" transform="rotate(20 620.6 323.9)"/>
<ellipse cx="620.6" cy="323.9" rx="1.6" ry="3.1" transform="rotate(20 620.6 323.9)" stroke-width="1.8"/>
<path d="M616.7 329.4 L619.1 330.9"/>
<ellipse cx="617.5" cy="343.4" rx="5.9" ry="4.1" transform="rotate(-5 617.5 343.4)"/>
<path d="M612.0 338.8 C613.1 338.3 615.2 336.4 617.5 336.4 C619.8 336.4 622.5 338.3 623.8 338.8"/>
<path d="M609.7 346.6 C611.2 347.3 614.7 350.3 617.5 350.5 C620.3 350.6 622.5 348.0 623.8 347.3"/>
<path d="M633.1 294.2 C633.3 295.1 632.9 297.5 633.9 299.7 C634.9 301.9 637.3 305.3 639.4 307.5 C641.5 309.7 645.2 312.1 646.4 313.0"/>
<path d="M634.7 293.4 L645.6 299.7 L650.0 303.6"/>
<ellipse cx="648.8" cy="307.5" rx="1.7" ry="3.1" transform="rotate(15 648.8 307.5)" stroke-width="1.8"/>
<path d="M562.8 335.6 L573.8 341.9 L583.1 346.6 L584.7 344.2"/>
<path d="M553.4 355.2 L573.8 345.0"/>
<path d="M561.2 352.8 L566.7 347.3"/>
<path d="M573.8 352.0 L581.6 357.5 L589.4 359.8"/>
<path d="M583.9 356.7 L601.9 352.8"/>
<path d="M580.0 346.6 L580.0 359.8"/>
<path d="M612.8 357.5 C615.1 356.0 626.7 347.8 630.0 346.6 C633.3 345.3 636.6 346.9 637.8 348.1 C639.1 349.4 637.8 354.4 639.4 355.9 C641.0 357.5 648.6 359.3 650.0 359.8"/>
<path d="M614.4 359.8 L612.8 357.5"/>
<path d="M623.8 343.4 L627.7 341.9"/>
<path d="M640.0 286.7 C641.7 285.8 662.8 274.2 665.0 272.7 C667.2 271.1 672.0 265.4 672.8 264.1 C673.6 262.8 675.8 255.5 676.7 253.1 C677.7 250.8 686.1 231.0 686.9 228.9 C687.7 226.8 687.4 222.9 688.4 221.9 C689.5 220.8 700.3 213.1 702.5 213.3 C704.7 213.4 719.2 222.7 721.2 224.2 C723.3 225.8 731.2 234.5 733.8 236.7 C736.3 238.9 758.2 255.7 760.0 257.0"/>
<path d="M668.1 272.7 C668.9 272.1 674.5 269.1 675.9 267.2 C677.4 265.2 681.6 256.2 683.0 253.1 C684.4 250.0 689.3 238.2 690.0 235.9 C690.7 233.7 690.2 231.2 690.0 230.5 C689.8 229.7 687.9 228.4 687.7 228.1"/>
<path d="M668.9 275.0 L690.0 285.2 L677.5 267.2"/>
<path d="M675.9 267.2 L691.6 286.7"/>
<ellipse cx="682.2" cy="287.5" rx="3.0" ry="3.9" transform="rotate(15 682.2 287.5)" stroke-width="1.3"/>
<path d="M707.2 233.6 L715.0 228.1 L716.6 229.7 L716.6 236.7 L721.2 243.0 L720.5 247.7 L715.8 246.9 L708.8 241.4 L705.6 246.9 Z"/>
<ellipse cx="711.1" cy="235.9" rx="1.7" ry="3.4" transform="rotate(15 711.1 235.9)" stroke-width="1.3"/>
<path d="M733.8 219.5 L733.8 248.4" stroke-dasharray="10 2.5"/>
<path d="M733.8 219.5 L737.7 220.3 L740.8 223.4"/>
<path d="M729.8 246.9 L733.8 247.7"/>
<path d="M721.2 241.4 L727.5 244.5"/>
<path d="M745.5 225.0 L752.5 228.9"/>
<path d="M708.8 242.2 L732.2 264.1 L731.4 289.8"/>
<path d="M732.2 264.1 C734.1 263.3 743.5 259.1 746.2 258.6 C749.0 258.1 750.7 260.4 752.5 260.2 C754.3 259.9 759.0 257.4 760.0 257.0"/>
<path d="M739.2 266.4 L747.8 258.6"/>
<path d="M739.2 266.4 C740.4 267.1 742.8 270.4 746.2 270.3 C749.7 270.2 757.7 266.4 760.0 265.6"/>
<path d="M691.6 286.7 C692.4 285.1 699.0 272.3 700.2 270.3 C701.3 268.3 702.4 266.7 703.3 266.4 C704.1 266.1 706.1 265.9 708.8 267.2 C711.4 268.5 728.0 277.4 729.8 279.7 C731.7 282.0 727.7 288.8 727.5 289.8"/>
<path d="M690.0 289.8 L696.2 285.2"/>
<path d="M740.0 289.8 C740.6 288.1 741.6 283.0 743.1 281.2 C744.7 279.5 747.2 279.5 747.8 281.2 C748.4 283.0 746.6 288.1 746.2 289.8"/>
<path d="M752.5 289.8 L760.0 279.7"/>
<path d="M752.5 229.7 L755.6 228.1 L764.2 232.8 L763.4 238.3 L757.2 236.7 L752.5 233.6 Z"/>
<path d="M755.6 228.1 L754.8 234.7"/>
<path d="M761.4 231.6 L760.6 237.8"/>
<path d="M764.2 232.8 L785.3 243.0"/>
<path d="M763.4 238.3 L780.6 246.9"/>
<path d="M780.6 246.9 L785.3 243.0 L792.3 244.5 L795.5 248.4 L794.7 253.9 L790.0 257.0 L783.8 256.2 L780.6 253.9 Z"/>
<ellipse cx="784.2" cy="250.3" rx="2.2" ry="5.6" transform="rotate(8 784.2 250.3)"/>
<path d="M790.0 246.9 L786.9 251.6 L790.0 256.6"/>
<path d="M792.3 244.5 L790.3 246.9"/>
<path d="M788.4 232.8 L788.4 242.2"/>
<path d="M740.0 241.4 L758.8 256.2 L792.3 275.0 L792.3 289.8"/>
<path d="M758.8 256.2 C757.6 257.8 753.8 263.4 751.7 265.6 C749.6 267.8 748.2 269.5 746.2 269.5 C744.3 269.5 741.0 266.3 740.0 265.6"/>
<path d="M751.7 265.6 C752.6 265.8 757.3 265.6 760.3 267.2 C763.4 268.8 780.0 279.8 782.2 281.2"/>
<ellipse cx="857.5" cy="258.6" rx="0.9" ry="1.9"/>
<ellipse cx="910.6" cy="227.8" rx="4.8" ry="7.0" transform="rotate(-15 910.6 227.8)"/>
<path d="M894.2 235.2 L905.2 228.1 L909.1 231.2 L898.9 238.3 L894.2 238.3 Z"/>
<ellipse cx="896.6" cy="236.4" rx="1.1" ry="2.0" transform="rotate(25 896.6 236.4)" stroke-width="1.3"/>
<ellipse cx="899.7" cy="234.5" rx="1.1" ry="2.0" transform="rotate(25 899.7 234.5)" stroke-width="1.3"/>
<ellipse cx="902.5" cy="232.8" rx="1.1" ry="2.0" transform="rotate(25 902.5 232.8)" stroke-width="1.3"/>
<ellipse cx="905.5" cy="230.9" rx="1.1" ry="2.0" transform="rotate(25 905.5 230.9)" stroke-width="1.3"/>
<path d="M886.4 241.4 L893.4 237.5"/>
<path d="M875.5 246.9 L880.9 244.5"/>
<path d="M863.0 254.7 L871.6 250.0"/>
<path d="M880.9 245.6 L880.9 282.8" stroke-width="1.7" stroke-dasharray="0.6 2.4"/>
<path d="M874.7 285.2 L880.9 282.8"/>
<path d="M858.3 251.2 C858.8 251.6 861.0 252.0 862.2 253.9 C863.3 255.8 865.7 262.2 866.9 265.6 C868.0 269.1 870.4 277.1 870.8 279.7 C871.2 282.3 870.5 283.8 870.0 285.2 C869.5 286.5 867.3 289.2 866.9 289.8"/>
<path d="M858.3 251.2 C857.7 251.7 854.5 253.1 853.6 254.7 C852.7 256.3 851.7 263.3 850.5 264.8 C849.3 266.3 843.6 266.1 843.4 267.5 C843.3 268.9 847.8 274.2 848.9 276.6 C850.0 278.9 852.2 286.0 852.8 287.5 C853.5 289.0 854.2 289.6 854.4 289.8"/>
<path d="M843.3 267.0 C844.0 268.2 847.5 272.6 848.8 275.6 C850.0 278.6 851.6 286.5 852.7 289.7 C853.7 292.9 855.6 298.3 856.6 299.8 C857.5 301.4 858.6 301.7 859.7 301.4 C860.7 301.1 863.1 299.3 864.4 297.5 C865.6 295.7 868.2 290.4 869.1 288.1 C869.9 285.8 870.6 282.8 870.6 280.3 C870.6 277.8 869.7 272.1 869.1 269.4 C868.4 266.7 866.4 261.2 865.9 260.0"/>
<ellipse cx="858.6" cy="277.2" rx="6.9" ry="9.7" transform="rotate(-20 858.6 277.2)" stroke-width="1.3"/>
<ellipse cx="857.0" cy="296.7" rx="0.9" ry="1.9"/>
<path d="M855.0 279.5 L859.7 276.4"/>
<path d="M825.3 297.5 L850.3 283.4"/>
<path d="M867.5 289.7 L871.4 288.1"/>
<ellipse cx="816.7" cy="301.9" rx="9.1" ry="10.9" transform="rotate(-15 816.7 301.9)"/>
<path d="M810.5 304.5 L816.7 301.9"/>
<path d="M799.5 311.6 L805.8 308.4"/>
<path d="M796.4 338.6 L819.1 349.5" stroke-dasharray="12 3"/>
<path d="M820.9 350.0 L823.8 349.1 L831.6 353.4 L830.8 358.9 L825.3 356.9 L820.9 354.7 Z"/>
<path d="M823.8 349.1 L823.3 355.8"/>
<path d="M826.4 350.8 L825.8 357.2"/>
<path d="M829.1 352.2 L828.4 358.1"/>
<path d="M831.6 353.4 L855.0 364.7"/>
<path d="M830.8 358.9 L848.8 368.3"/>
<path d="M848.8 370.6 L851.9 365.9 L858.1 363.6 L862.8 367.5 L862.8 375.3 L858.1 379.2 L850.3 377.7 Z"/>
<ellipse cx="852.7" cy="371.9" rx="2.2" ry="5.6" transform="rotate(10 852.7 371.9)"/>
<path d="M856.6 366.7 L854.2 372.2 L857.3 378.4"/>
<path d="M858.1 363.6 L856.6 366.7"/>
<path d="M863.6 372.2 L868.3 372.2"/>
<path d="M792.5 352.7 L801.9 357.3"/>
<path d="M805.0 359.7 L820.6 368.3"/>
<path d="M825.3 370.6 L842.5 380.0"/>
<path d="M847.2 383.1 L865.2 392.5"/>
<path d="M865.2 392.5 L848.8 401.1"/>
<path d="M831.6 411.2 L819.1 419.8"/>
<path d="M793.3 389.4 L800.3 393.3"/>
<path d="M800.3 393.3 L812.8 400.3"/>
<path d="M620.0 298.9 L634.1 291.1 L666.9 272.3 L673.1 270.0"/>
<ellipse cx="649.7" cy="307.5" rx="3.3" ry="5.0" transform="rotate(20 649.7 307.5)"/>
<path d="M654.4 309.8 L677.8 323.1" stroke-dasharray="12 3"/>
<ellipse cx="682.5" cy="288.8" rx="1.4" ry="2.3" transform="rotate(20 682.5 288.8)" stroke-width="1.8"/>
<path d="M665.3 274.7 C665.5 275.7 665.4 280.1 666.9 282.5 C668.3 284.9 674.2 291.0 676.2 292.7 C678.3 294.3 681.7 294.7 682.5 295.0"/>
<path d="M666.1 274.7 L680.2 284.8"/>
<path d="M687.2 290.3 L704.4 298.9" stroke-dasharray="12 3"/>
<path d="M690.3 285.6 L696.6 282.5"/>
<path d="M701.2 270.0 C701.5 272.3 702.2 283.4 702.8 287.2 C703.4 290.9 706.4 296.0 705.9 298.1 C705.5 300.2 700.1 301.4 699.7 302.8 C699.3 304.3 702.4 308.2 702.8 309.1"/>
<path d="M620.0 315.6 C620.8 316.0 622.9 316.5 623.9 317.7 C624.9 318.8 625.2 320.1 625.0 321.6 C624.8 323.0 624.1 324.1 623.1 325.0 C622.1 325.9 620.6 325.8 620.0 325.9" stroke-width="1.3"/>
<path d="M634.1 327.8 C634.7 326.6 634.8 323.3 637.2 321.6 C639.5 319.8 642.2 319.1 645.8 319.2 C649.4 319.4 652.8 320.9 655.2 322.3 C657.5 323.8 657.0 325.5 657.5 326.2"/>
<ellipse cx="646.6" cy="330.2" rx="8.6" ry="6.2" stroke-width="1.3"/>
<path d="M634.1 327.8 C635.0 329.4 635.9 333.3 638.8 335.6 C641.6 338.0 644.8 339.5 648.1 339.5 C651.4 339.5 653.6 338.1 655.2 335.6 C656.7 333.1 655.8 328.8 655.9 327.0"/>
<ellipse cx="709.8" cy="316.1" rx="9.1" ry="4.7"/>
<path d="M700.9 316.1 L701.2 329.4"/>
<path d="M718.8 316.1 L718.8 327.8"/>
<ellipse cx="713.4" cy="326.2" rx="1.7" ry="2.3"/>
<path d="M709.1 298.9 L732.5 316.9"/>
<path d="M705.9 298.1 L720.0 307.5 L727.8 315.3"/>
<path d="M711.4 270.0 C713.5 271.1 728.0 276.6 729.4 279.4 C730.7 282.1 724.2 290.2 723.1 293.4 C722.0 296.7 720.4 305.9 720.0 307.5"/>
<path d="M730.9 270.0 C731.1 271.2 732.7 275.6 732.5 279.4 C732.3 283.1 729.4 293.1 729.4 298.1 C729.4 303.1 732.1 314.4 732.5 316.9"/>
<path d="M740.0 288.8 C739.4 290.4 737.0 297.5 735.6 301.2 C734.2 305.0 731.5 313.8 729.4 316.9 C727.3 320.0 721.2 323.6 720.0 324.7"/>
<path d="M670.0 352.8 L701.2 337.2 L720.0 327.0 L740.0 319.2"/>
<path d="M701.2 337.2 L720.0 329.4 L740.0 325.5"/>
<path d="M702.0 343.4 C703.0 342.1 704.2 338.1 707.5 336.4 C710.8 334.7 716.0 333.9 720.0 334.1 C724.0 334.2 727.1 335.5 729.4 337.2 C731.7 338.9 732.5 341.1 732.5 343.4 C732.5 345.7 733.1 347.4 729.4 349.7 C725.7 352.0 715.3 354.8 712.2 355.9"/>
<ellipse cx="717.7" cy="341.9" rx="11.2" ry="5.5" transform="rotate(-3 717.7 341.9)" stroke-width="1.3"/>
<path d="M702.0 343.4 C702.2 344.7 701.9 349.3 702.8 351.2 C703.7 353.2 706.7 354.5 707.5 355.2"/>
<ellipse cx="705.9" cy="349.7" rx="1.7" ry="2.8"/>
<path d="M679.4 328.6 L688.8 343.4"/>
<path d="M688.0 324.7 L701.2 329.4"/>
<path d="M682.5 324.7 L698.1 332.5 L696.6 337.2 L701.2 337.2"/>
<path d="M660.6 338.8 L684.1 343.4 L688.8 343.4"/>
<path d="M652.8 345.0 C653.6 346.3 655.2 351.8 657.5 352.8 C659.8 353.9 664.8 352.2 666.9 351.2 C669.0 350.3 668.7 347.6 670.0 347.3 C671.3 347.1 674.2 348.5 674.7 349.7 C675.2 350.9 674.4 352.7 673.1 354.4 C671.8 356.1 667.9 358.9 666.9 359.8"/>
<path d="M688.8 351.2 C689.5 351.0 691.4 349.2 693.4 349.7 C695.5 350.2 699.4 354.1 701.2 354.4 C703.1 354.6 703.9 351.8 704.4 351.2"/>
<path d="M685.6 359.8 C686.4 359.1 687.7 355.5 690.3 355.2 C692.9 354.8 698.1 356.7 701.2 357.5 C704.4 358.3 707.8 359.5 709.1 359.8"/>
<path d="M726.2 330.9 C727.3 332.2 731.6 335.9 732.5 338.8 C733.4 341.6 733.3 346.0 731.7 348.1 C730.2 350.2 726.4 349.9 723.1 351.2 C719.9 352.6 714.0 355.2 712.2 355.9"/>
<path d="M732.5 348.1 L740.0 346.6"/>
<path d="M782.8 280.9 L792.2 275.5 L793.8 293.4 L799.2 312.2 L799.2 321.6 L802.3 321.6 L802.3 330.9 L796.1 334.1 L795.3 359.8"/>
<path d="M782.8 307.5 C781.8 305.6 777.1 296.6 775.0 293.4 C772.9 290.3 769.3 285.9 767.2 284.1 C765.1 282.2 761.1 279.8 759.4 279.4 C757.6 279.0 755.6 279.3 753.9 280.9 C752.2 282.6 748.3 290.1 746.9 291.9 C745.4 293.6 743.5 293.9 743.0 294.2"/>
<path d="M782.8 280.9 L782.8 307.5"/>
<path d="M743.0 294.2 L742.2 322.3"/>
<path d="M731.2 270.0 L732.8 279.4 L732.8 307.5"/>
<path d="M729.7 279.4 C728.6 281.5 723.0 290.8 721.9 295.0 C720.7 299.2 721.5 307.7 721.1 310.6 C720.7 313.5 719.1 316.0 718.8 316.9"/>
<path d="M743.0 298.9 C744.5 299.5 750.8 301.1 753.1 302.8 C755.5 304.6 757.4 307.8 758.6 310.6 C759.8 313.4 760.6 316.6 760.9 321.6 C761.3 326.5 760.9 340.2 760.9 343.4"/>
<path d="M742.2 322.3 C746.1 320.4 749.5 319.7 751.6 320.0 C753.6 320.3 754.2 321.8 754.7 323.9 C755.2 326.0 755.2 330.3 754.7 332.5 C754.2 334.7 753.4 336.1 751.6 337.2 C749.7 338.2 746.9 339.1 743.8 338.8 C740.6 338.4 735.4 336.0 732.8 334.8 C730.2 333.7 726.6 333.8 728.1 331.7 C729.7 329.6 738.3 324.3 742.2 322.3 Z"/>
<path d="M740.9 322.3 L743.8 322.8" stroke-width="2"/>
<ellipse cx="766.4" cy="330.9" rx="3.9" ry="1.9"/>
<path d="M762.5 330.9 L762.5 335.6"/>
<path d="M799.2 321.6 L789.1 320.8 L771.9 334.1"/>
<path d="M789.1 323.1 C788.2 324.8 784.9 332.9 782.8 335.6 C780.7 338.3 776.4 341.8 773.4 343.4 C770.5 345.1 762.6 347.5 760.9 348.1"/>
<path d="M790.6 323.9 C790.1 325.3 787.5 329.8 787.5 332.5 C787.5 335.2 790.1 339.0 790.6 340.3"/>
<path d="M746.9 326.2 L762.5 334.1" stroke-dasharray="10 3"/>
<path d="M735.9 320.0 L740.6 323.1"/>
<path d="M720.3 327.8 L742.2 322.3"/>
<path d="M715.6 324.7 L732.8 315.3"/>
<path d="M728.1 349.7 L734.4 357.5"/>
<path d="M555.6 340.0 C555.4 341.1 553.8 347.6 553.3 349.4 C552.7 351.2 551.4 354.7 550.9 355.6 C550.5 356.5 549.5 356.1 549.4 357.2 C549.3 358.3 549.8 363.5 550.2 365.0 C550.5 366.5 551.9 369.3 552.5 370.5 C553.1 371.7 555.3 374.2 555.6 375.2 C556.0 376.2 554.5 377.5 555.6 379.1 C556.7 380.6 563.5 385.7 565.0 388.4 C566.5 391.2 568.4 399.9 568.9 402.5 C569.5 405.1 569.6 410.1 569.7 411.1"/>
<path d="M569.7 411.1 L555.6 416.6 L554.8 427.5 L553.3 429.8"/>
<path d="M550.9 355.6 L560.3 356.4 L560.3 370.5 L552.5 366.6"/>
<path d="M560.3 356.4 L573.6 346.2 L583.0 346.2 L584.5 344.7"/>
<path d="M560.3 370.5 L568.1 365.8 L572.8 366.6 L572.0 360.3 L579.1 353.3 L574.4 350.9 L583.0 346.2"/>
<path d="M556.4 375.9 C557.9 377.3 564.0 382.3 566.6 385.3 C569.1 388.4 572.0 392.5 573.6 396.2 C575.2 400.0 576.8 405.3 577.5 410.3 C578.2 415.4 578.2 426.9 578.3 429.8"/>
<path d="M568.1 375.2 C568.5 375.7 569.8 377.7 571.2 379.1 C572.7 380.4 578.2 383.9 579.1 385.3 C579.9 386.8 577.2 388.3 577.5 390.0 C577.8 391.7 580.7 396.1 581.4 397.8 C582.1 399.5 582.8 401.9 583.0 402.5"/>
<path d="M583.0 402.5 L604.1 404.1"/>
<path d="M568.9 375.2 L579.1 382.2"/>
<ellipse cx="585.3" cy="379.8" rx="5.3" ry="8.6" transform="rotate(-25 585.3 379.8)"/>
<path d="M573.6 357.2 L588.4 365.8 L601.7 368.1 L603.3 376.7 L605.6 380.6 L590.8 386.9 L590.0 400.2 L601.7 393.9 L618.9 399.4 L621.2 390.0"/>
<path d="M583.0 356.4 L590.0 360.3 L600.9 354.1"/>
<path d="M590.0 360.3 L593.1 357.2"/>
<path d="M605.6 375.9 C606.3 375.0 608.8 375.7 610.3 376.7 C611.9 377.8 614.2 380.2 615.0 382.2 C615.8 384.1 615.7 387.7 615.0 388.4 C614.3 389.2 612.5 387.9 611.1 386.9 C609.7 385.8 607.3 384.0 606.4 382.2 C605.5 380.4 605.0 376.8 605.6 375.9 Z"/>
<path d="M593.9 363.4 L615.0 373.6 L621.2 375.2 L630.6 370.5 L632.2 368.1"/>
<path d="M603.3 364.2 L625.9 380.6"/>
<path d="M615.0 373.6 C615.3 373.0 618.3 369.8 618.1 368.1 C618.0 366.4 613.9 357.6 613.4 356.4"/>
<ellipse cx="640.0" cy="370.5" rx="8.1" ry="5.0" transform="rotate(-8 640.0 370.5)"/>
<path d="M635.6 386.9 C635.9 385.8 635.4 382.9 636.9 381.4 C638.4 379.9 640.8 379.2 643.1 379.4 C645.5 379.5 647.7 380.7 648.6 382.2 C649.5 383.7 649.2 385.5 647.8 386.9 C646.4 388.3 642.8 388.8 641.6 389.2"/>
<ellipse cx="654.8" cy="374.4" rx="4.7" ry="3.0" transform="rotate(-15 654.8 374.4)"/>
<path d="M629.8 383.8 C630.8 383.0 634.0 385.3 635.3 386.9 C636.6 388.4 637.9 391.6 637.7 393.1 C637.4 394.7 635.1 396.5 633.8 396.2 C632.4 396.0 630.5 393.6 629.8 391.6 C629.2 389.5 628.9 384.5 629.8 383.8 Z" stroke-width="1.4"/>
<path d="M621.2 390.0 C622.2 390.5 626.0 391.5 627.5 393.1 C629.0 394.8 631.8 398.6 631.4 400.9 C631.1 403.3 626.7 407.6 625.2 408.8 C623.6 409.9 621.8 408.8 621.2 408.8"/>
<path d="M621.2 408.8 L621.2 390.0"/>
<ellipse cx="623.6" cy="415.0" rx="3.8" ry="5.5" transform="rotate(-20 623.6 415.0)" stroke-width="1.4"/>
<path d="M635.3 399.4 L660.0 410.3"/>
<path d="M634.5 404.1 L660.0 416.6"/>
<path d="M646.2 390.0 L660.0 394.7"/>
<path d="M649.4 379.1 L660.0 375.9"/>
<path d="M647.8 386.9 C649.1 387.7 653.6 391.6 655.6 391.6 C657.7 391.6 659.3 387.7 660.0 386.9"/>
<path d="M605.6 408.8 C606.1 406.3 607.0 405.1 608.8 404.8 C610.5 404.6 613.4 405.6 615.0 407.2 C616.6 408.8 617.2 410.9 617.3 413.4 C617.5 416.0 616.9 419.4 615.8 421.2 C614.6 423.1 612.8 424.2 611.1 423.6 C609.4 423.0 607.4 420.8 606.4 418.1 C605.4 415.4 605.2 411.2 605.6 408.8 Z" stroke-width="1.4"/>
<path d="M604.1 404.1 L603.3 429.8"/>
<path d="M607.2 404.1 L618.1 407.2 L621.2 408.8"/>
<path d="M605.6 408.8 C606.0 410.4 607.1 418.4 608.8 421.2 C610.4 424.1 616.9 428.7 618.1 429.8"/>
<path d="M591.6 402.5 C592.4 404.0 597.8 411.1 597.8 413.4 C597.8 415.7 593.8 418.4 591.6 419.7 C589.4 420.9 582.7 422.0 581.4 422.8 C580.2 423.6 582.1 425.5 582.2 425.9"/>
<path d="M593.1 427.5 L600.9 423.6"/>
<path d="M608.8 419.7 L613.4 416.6"/>
<path d="M627.5 413.4 C628.0 414.2 630.4 415.8 630.6 418.1 C630.9 420.5 629.3 425.9 629.1 427.5"/>
<path d="M557.2 416.6 C558.2 416.8 561.4 418.9 563.4 418.1 C565.5 417.3 568.6 412.9 569.7 411.9"/>
<path d="M652.5 340.0 C653.2 341.0 655.2 344.9 656.4 346.2 C657.7 347.6 659.4 347.6 660.0 347.8"/>
<path d="M555.6 420.0 L555.6 427.8 L551.7 430.9 L550.9 470.0 L577.5 484.1 L586.9 489.5 L618.1 492.7 L627.5 495.0 L660.0 507.5"/>
<path d="M550.9 452.0 L563.4 443.4"/>
<path d="M551.7 435.6 L555.6 438.0 L575.9 438.8 L578.3 434.1 L578.3 420.0"/>
<path d="M556.4 443.4 C557.9 441.4 570.4 441.7 572.8 441.9 C575.3 442.1 577.0 442.3 577.5 445.0 C578.0 447.7 578.0 462.7 577.5 465.3 C577.0 468.0 574.8 467.7 573.6 467.7 C572.4 467.7 568.9 466.3 567.3 465.3 C565.8 464.3 561.6 461.6 560.3 459.1 C559.0 456.5 554.9 445.4 556.4 443.4 Z"/>
<path d="M551.7 457.5 L575.9 473.1 L582.2 468.4 L585.3 459.1 L591.6 459.1 L605.6 450.5"/>
<path d="M585.3 459.1 L586.9 463.8 L602.5 455.9"/>
<path d="M582.2 468.4 L595.5 465.3"/>
<path d="M586.9 440.3 L582.2 443.4 L582.2 451.2 L590.0 457.5"/>
<path d="M590.0 434.1 L590.0 451.2"/>
<path d="M603.3 420.0 L603.3 444.2"/>
<path d="M585.3 430.9 L599.4 426.2 L593.1 424.7"/>
<path d="M590.0 434.1 L607.2 431.7"/>
<path d="M593.1 420.0 L593.9 426.2 L599.4 428.6"/>
<ellipse cx="584.5" cy="476.2" rx="2.2" ry="3.9" transform="rotate(15 584.5 476.2)" stroke-width="1.3"/>
<path d="M577.5 484.1 L578.3 478.6 L581.4 473.9"/>
<path d="M590.0 473.9 L597.0 470.0"/>
<path d="M598.6 470.8 L611.9 480.2"/>
<path d="M593.1 480.2 L613.4 491.9"/>
<path d="M586.9 478.6 L593.1 480.2"/>
<path d="M615.0 441.9 C616.3 440.8 619.2 436.5 622.8 435.6 C626.5 434.7 632.4 434.6 636.9 436.4 C641.3 438.2 646.0 442.3 649.4 446.6 C652.8 450.9 655.6 456.7 657.2 462.2 C658.8 467.7 659.0 474.9 658.8 479.4 C658.5 483.8 656.1 487.2 655.6 488.8"/>
<path d="M613.4 435.6 C612.7 437.6 607.4 449.9 607.2 452.8 C607.0 455.7 610.8 458.1 611.9 460.6 C613.0 463.2 615.5 472.1 616.6 474.7 C617.7 477.2 620.2 481.2 621.2 482.5 C622.3 483.8 624.8 484.2 625.9 485.6 C627.0 487.1 630.1 493.9 630.6 495.0"/>
<path d="M630.6 495.0 L652.5 501.2 L654.1 496.6 L643.1 490.3 L641.6 485.6"/>
<path d="M615.0 441.9 C615.0 444.7 614.2 453.9 615.0 459.1 C615.8 464.3 617.6 468.7 619.7 473.1 C621.8 477.6 625.2 482.2 627.5 485.6 C629.8 489.0 632.7 492.1 633.8 493.4"/>
<path d="M624.4 451.2 C625.4 448.8 628.0 446.2 630.6 445.8 C633.2 445.4 636.9 446.4 640.0 448.9 C643.1 451.4 646.9 456.6 649.4 460.6 C651.8 464.7 654.2 469.5 654.8 473.1 C655.5 476.8 654.5 480.5 653.3 482.5 C652.1 484.5 650.5 485.2 647.8 484.8 C645.1 484.5 640.0 482.1 636.9 480.2 C633.8 478.2 631.1 476.4 629.1 473.1 C627.0 469.9 625.2 464.3 624.4 460.6 C623.6 457.0 623.3 453.7 624.4 451.2 Z"/>
<path d="M607.2 420.0 C608.2 421.0 613.1 427.0 615.0 427.8 C616.9 428.6 620.6 427.3 621.2 426.2 C621.9 425.2 619.9 420.8 619.7 420.0"/>
<path d="M627.5 424.7 L641.6 430.9 L660.0 445.0"/>
<path d="M630.6 423.1 L660.0 438.8"/>
<path d="M655.6 509.8 L660.0 509.8"/>
<path d="M685.3 414.1 L694.7 418.8"/>
<path d="M736.9 390.6 L760.0 401.6" stroke-dasharray="14 3"/>
<path d="M669.7 395.3 C670.1 395.0 672.6 392.1 674.4 391.4 C676.2 390.7 689.5 387.4 691.6 386.7 C693.6 386.1 697.6 384.4 699.4 383.6 C701.2 382.8 711.6 378.5 713.4 377.3 C715.3 376.2 719.6 371.5 721.2 370.3 C722.9 369.1 731.9 363.3 733.8 362.5 C735.6 361.7 740.9 360.9 743.1 360.2 C745.3 359.4 758.6 353.7 760.0 353.1"/>
<path d="M671.2 396.9 C673.8 395.9 689.5 389.4 693.1 388.3 C696.8 387.2 700.1 388.4 702.5 387.5 C704.9 386.6 711.6 381.6 713.4 380.5 C715.3 379.4 717.2 378.0 718.1 378.1 C719.0 378.2 720.5 380.2 721.2 381.2 C722.0 382.3 723.3 386.6 724.4 387.5 C725.5 388.4 729.5 389.1 730.6 389.1 C731.7 389.1 733.0 389.7 733.8 387.5 C734.5 385.3 736.0 373.3 736.9 370.3 C737.8 367.3 741.0 362.7 741.6 361.7"/>
<ellipse cx="688.4" cy="396.1" rx="2.7" ry="3.9" transform="rotate(15 688.4 396.1)" stroke-width="1.3"/>
<ellipse cx="672.8" cy="414.1" rx="2.7" ry="4.4" transform="rotate(15 672.8 414.1)"/>
<ellipse cx="729.8" cy="381.2" rx="3.0" ry="4.4" transform="rotate(20 729.8 381.2)" stroke-width="1.3"/>
<ellipse cx="732.2" cy="368.8" rx="2.2" ry="4.7" transform="rotate(20 732.2 368.8)"/>
<path d="M669.7 395.3 L668.9 403.1 L665.0 407.8 L661.9 412.5 L661.6 439.8"/>
<path d="M665.0 407.8 L668.9 404.7 L673.6 407.8"/>
<ellipse cx="674.7" cy="360.6" rx="8.1" ry="4.4"/>
<path d="M668.9 364.8 L668.9 378.9"/>
<path d="M672.0 365.6 L672.0 376.6"/>
<path d="M683.0 364.8 L683.0 367.2"/>
<path d="M640.0 364.1 C641.3 364.5 643.4 366.5 647.8 366.4 C652.2 366.3 663.4 363.8 666.6 363.3"/>
<path d="M650.9 373.4 C651.6 373.0 653.3 371.1 654.8 371.1 C656.4 371.1 659.9 371.9 660.3 373.4 C660.7 375.0 658.0 377.6 657.2 380.5 C656.4 383.3 655.9 388.9 655.6 390.6"/>
<path d="M640.0 368.0 C641.2 368.4 645.3 368.9 646.2 370.3 C647.2 371.7 645.9 373.8 644.7 375.0 C643.4 376.2 640.9 376.2 640.0 376.6"/>
<path d="M640.0 380.5 C641.3 381.2 646.6 383.9 647.8 385.2 C649.0 386.5 647.2 387.8 647.0 388.3"/>
<path d="M640.0 390.6 L655.6 390.6"/>
<path d="M642.3 398.4 L663.4 404.7"/>
<path d="M647.8 393.0 L665.8 400.0"/>
<path d="M655.6 390.6 L666.6 396.1"/>
<path d="M666.6 385.9 L666.6 395.3"/>
<path d="M666.6 385.9 L672.8 384.4 L680.6 380.5 L686.9 383.6 L691.6 386.7"/>
<path d="M677.5 381.2 L680.6 378.9 L685.3 382.8"/>
<path d="M686.1 359.4 L685.3 370.3 L694.7 383.6 L700.9 386.7"/>
<path d="M686.9 356.2 L691.6 354.7 L705.6 362.5 L721.2 365.6"/>
<path d="M686.1 361.7 L693.1 365.6 L708.8 375.0"/>
<path d="M693.1 365.6 L686.9 375.8"/>
<path d="M699.4 367.2 L710.3 373.4"/>
<path d="M688.4 350.0 L691.6 354.7"/>
<path d="M707.2 350.0 C707.4 351.0 707.3 356.6 708.8 357.8 C710.2 359.1 715.6 360.0 718.1 359.4 C720.6 358.8 725.6 354.4 727.5 353.1 C729.4 351.9 731.6 350.4 732.2 350.0"/>
<path d="M718.1 359.4 L716.6 364.1"/>
<path d="M733.8 350.0 L740.0 356.2 L743.1 360.2"/>
<path d="M749.4 364.1 L760.0 368.8"/>
<path d="M721.2 439.8 C722.1 437.7 726.4 426.9 727.5 423.4 C728.6 420.0 729.5 415.3 729.8 414.1"/>
<path d="M720.0 368.3 C721.0 367.6 734.1 359.0 735.6 358.1 C737.2 357.3 740.3 356.7 743.4 355.8 C746.6 354.9 779.5 345.5 782.5 344.8 C785.5 344.2 788.2 345.3 788.8 345.6 C789.3 346.0 790.8 348.0 791.1 350.3 C791.4 352.6 792.6 377.0 792.7 380.0 C792.7 383.0 792.1 394.0 791.9 395.6 C791.7 397.3 789.7 404.4 789.5 405.0"/>
<path d="M789.5 405.0 L801.2 408.1 L801.2 411.2 L795.0 412.8 L795.0 419.8"/>
<path d="M720.0 361.2 C721.2 360.6 729.1 355.1 734.1 353.4 C739.0 351.8 774.9 342.9 779.4 341.7 C783.8 340.5 786.0 340.1 787.2 339.4 C788.4 338.7 792.3 333.9 793.4 333.1 C794.6 332.3 800.6 330.3 801.2 330.0"/>
<path d="M789.5 340.9 L791.1 344.8 L790.3 350.3"/>
<path d="M793.4 333.1 C793.8 333.9 796.4 337.0 796.6 339.4 C796.7 341.7 795.1 348.7 795.0 353.4 C794.9 358.2 796.0 376.0 795.8 380.0 C795.6 384.0 793.3 386.5 793.4 387.8 C793.5 389.1 796.2 390.6 796.6 390.9"/>
<ellipse cx="784.1" cy="351.1" rx="3.0" ry="4.4" transform="rotate(20 784.1 351.1)" stroke-width="1.3"/>
<ellipse cx="784.8" cy="411.2" rx="3.3" ry="5.0" transform="rotate(20 784.8 411.2)" stroke-width="1.3"/>
<path d="M784.8 383.9 L788.8 384.7 L788.8 387.0" stroke-width="1.3"/>
<path d="M758.3 369.8 L779.4 380.8"/>
<path d="M755.9 400.3 L773.1 409.7"/>
<path d="M720.0 336.2 C721.0 336.8 724.4 337.6 726.2 339.4 C728.1 341.2 732.0 345.1 730.9 347.2 C729.9 349.3 721.8 351.1 720.0 351.9"/>
<path d="M741.9 339.4 L755.9 350.3"/>
<path d="M761.4 342.5 L762.2 334.7 L770.0 333.1 L770.8 341.7"/>
<path d="M765.3 330.0 L765.3 336.2"/>
<path d="M729.4 350.3 L737.2 356.6"/>
<path d="M720.0 394.1 C721.0 395.4 724.9 397.6 726.2 401.9 C727.6 406.2 727.6 416.8 727.8 419.8"/>
<path d="M766.9 419.8 L773.1 411.2 L779.4 403.4"/>
<path d="M788.8 419.8 L793.4 412.8"/>
<ellipse cx="701.8" cy="428.2" rx="22.6" ry="33.7" transform="rotate(27.5 701.8 428.2)" stroke-width="1.15"/>
<ellipse cx="701.8" cy="428.2" rx="26.0" ry="37.3" transform="rotate(27.5 701.8 428.2)" stroke-width="1"/>
<ellipse cx="758.9" cy="393.0" rx="22.6" ry="33.7" transform="rotate(27.5 758.9 393.0)" stroke-width="1.15"/>
<ellipse cx="758.9" cy="393.0" rx="26.0" ry="37.3" transform="rotate(27.5 758.9 393.0)" stroke-width="1"/>
<path d="M729.0 438.4 L727.0 442.6 L724.5 446.6 L721.8 450.4 L718.8 453.9 L715.6 457.0 L712.2 459.7 L708.6 462.0 L705.0 463.8 L701.3 465.2 L697.6 466.0 L694.0 466.4 L690.4 466.2 L687.1 465.5 L683.9 464.3 L681.0 462.6 L678.3 460.5 L676.0 457.9 L674.0 454.9 L672.4 451.5 L671.2 447.8 L670.4 443.9 L670.1 439.8 L670.1 435.4 L670.6 431.0 L671.6 426.6 L672.9 422.2 L674.6 417.8 L676.7 413.6 L679.1 409.6 L681.9 405.9 L684.9 402.4 L688.1 399.3 L691.5 396.6 L695.1 394.3 L698.8 392.5 L702.5 391.2 L706.1 390.4 L709.8 390.0 L713.3 390.2 L716.6 390.9" stroke-width="1"/>
<path d="M730.8 384.7 L732.7 380.6 L734.8 376.7 L737.3 372.9 L740.0 369.4 L743.0 366.2 L746.1 363.4 L749.4 360.9 L752.9 358.8 L756.4 357.1 L759.9 355.9 L763.5 355.1 L766.9 354.8 L770.3 355.0 L773.6 355.7 L776.6 356.8 L779.4 358.4 L782.0 360.4 L784.3 362.8 L786.3 365.6 L787.9 368.7 L789.1 372.2 L790.0 375.9 L790.5 379.8 L790.6 383.9 L790.3 388.0 L789.7 392.3 L788.6 396.5 L787.2 400.8 L785.4 404.9 L783.3 408.9 L780.8 412.6 L778.1 416.2 L775.2 419.4 L772.1 422.3 L768.8 424.8 L765.3 427.0 L761.8 428.7 L758.3 430.0 L754.8 430.8 L751.3 431.2" stroke-width="1"/>
<path d="M676.9 432.5 L677.7 445.0" stroke-width="1.8" stroke-dasharray="1 1.5"/>
<path d="M660.3 420.0 L665.8 420.8 L665.8 501.2"/>
<path d="M661.9 421.6 C661.7 426.6 660.1 453.2 660.3 459.1 C660.5 464.9 662.7 464.4 663.4 465.3 C664.2 466.2 665.5 466.0 665.8 466.1"/>
<path d="M665.8 501.2 L683.8 491.9 L708.8 474.7 L711.9 466.9 L721.2 460.6"/>
<path d="M663.4 501.2 L668.1 491.1 L672.0 491.9 L672.8 495.8 L665.8 501.2"/>
<path d="M665.8 501.2 C665.4 501.9 665.7 504.2 663.4 505.2 C661.2 506.1 656.4 507.1 652.5 506.7 C648.6 506.3 642.1 503.5 640.0 502.8"/>
<path d="M675.2 480.2 L704.1 467.7 L705.6 473.1 L678.3 489.5 L675.2 488.8 Z"/>
<ellipse cx="672.8" cy="474.7" rx="3.0" ry="4.7" transform="rotate(20 672.8 474.7)" stroke-width="1.3"/>
<ellipse cx="729.8" cy="442.7" rx="3.3" ry="4.7" transform="rotate(25 729.8 442.7)" stroke-width="1.3"/>
<path d="M722.0 448.1 L722.8 457.5 L729.1 457.5 L731.4 462.2 L740.0 458.3 L740.0 451.2 L744.7 448.1 L760.0 432.5"/>
<path d="M726.7 435.6 C727.4 435.5 730.2 433.4 732.2 434.8 C734.2 436.3 739.3 444.8 741.6 446.6 C743.9 448.3 747.5 446.9 749.4 448.1 C751.2 449.4 754.2 455.3 755.6 455.9 C757.0 456.6 759.4 453.2 760.0 452.8"/>
<path d="M727.5 423.1 C727.9 423.3 729.4 423.9 730.6 424.7 C731.9 425.5 734.8 428.5 736.9 429.4 C739.0 430.2 743.2 431.4 746.2 430.9 C749.3 430.5 758.2 426.9 760.0 426.2"/>
<path d="M733.8 420.0 C735.0 420.6 739.6 424.5 743.1 424.7 C746.6 424.9 757.8 422.0 760.0 421.6"/>
<path d="M694.7 420.0 L715.0 430.2"/>
<path d="M718.1 432.5 L722.8 435.6"/>
<path d="M685.3 491.1 L694.7 495.0"/>
<path d="M640.0 429.4 C641.3 430.2 645.2 431.2 647.8 434.1 C650.4 436.9 653.8 444.0 655.6 446.6 C657.4 449.2 658.2 449.2 658.8 449.7"/>
<path d="M640.0 437.2 C641.4 439.3 647.0 446.6 649.4 451.2 C651.7 455.9 654.9 463.3 655.6 468.4 C656.3 473.6 654.1 482.6 654.1 485.6 C654.1 488.7 654.7 489.2 655.6 488.8 C656.6 488.3 659.6 486.7 660.3 482.5 C661.0 478.3 660.3 463.9 660.3 460.6"/>
<path d="M650.9 435.6 L658.8 440.3 L658.8 449.7"/>
<path d="M640.0 488.8 C640.5 489.5 641.0 492.1 643.1 493.4 C645.2 494.7 650.7 495.3 652.5 496.6 C654.3 497.9 656.1 501.2 654.1 501.2 C652.0 501.2 642.3 497.3 640.0 496.6"/>
<path d="M754.8 439.8 L779.1 420.3 L784.5 421.1 L783.8 428.1 L779.1 433.6 L757.2 446.9 L754.1 445.3 Z"/>
<path d="M740.0 446.9 C740.9 446.5 745.8 445.8 747.8 443.8 C749.8 441.7 754.5 432.6 757.2 429.7 C759.9 426.8 768.2 421.8 771.2 418.8 C774.3 415.7 781.9 405.3 783.8 403.1 C785.6 400.9 786.5 400.4 786.9 400.0"/>
<path d="M740.0 450.0 L749.4 446.9 L757.2 450.0 L782.2 435.2 L785.3 428.1 L794.7 423.4 L795.5 414.1 L791.6 412.5 L790.8 401.6"/>
<path d="M790.8 401.6 L802.5 408.6 L801.7 411.7 L794.7 413.3"/>
<ellipse cx="790.8" cy="419.5" rx="2.7" ry="3.4" stroke-width="1.3"/>
<path d="M813.4 400.0 L832.2 410.9"/>
<path d="M832.2 410.9 L852.5 400.8"/>
<path d="M819.7 418.0 L813.4 421.1"/>
<path d="M808.8 423.4 L799.4 428.9"/>
<path d="M794.7 432.0 L786.9 436.7"/>
<path d="M782.2 439.1 L766.6 450.0"/>
<path d="M799.4 427.3 L805.6 429.7"/>
<path d="M810.0 432.0 L810.6 432.3"/>
<path d="M619.7 494.5 L624.4 497.7"/>
<path d="M629.1 500.0 L635.3 503.9"/>
<path d="M638.4 506.2 L646.2 510.2"/>
<rect x="280.5" y="180.5" width="79" height="59" fill="#fff" stroke="none"/>
<path d="M293.5 180.0 C294.4 180.3 298.6 182.0 299.8 182.6 C301.0 183.2 301.0 184.6 302.4 184.7 C303.8 184.8 308.6 183.7 310.2 183.1 C311.8 182.6 313.8 180.9 314.4 180.5"/>
<path d="M280.0 183.1 C280.8 183.5 284.9 184.8 286.2 185.7 C287.6 186.6 289.3 189.1 289.9 189.9 C290.5 190.7 290.3 191.7 290.4 192.0"/>
<path d="M280.0 199.3 L290.4 192.5 L300.8 187.8"/>
<path d="M280.0 202.4 C280.4 202.2 281.3 200.7 283.1 200.3 C284.9 199.9 293.4 199.4 295.6 198.8 C297.8 198.1 300.7 195.4 301.9 194.6 C303.1 193.7 305.4 192.4 306.0 191.5 C306.6 190.5 306.6 187.6 307.1 186.8 C307.6 186.0 308.8 185.0 310.2 184.7 C311.7 184.4 318.5 184.2 319.6 184.2"/>
<path d="M320.1 180.0 L320.1 200.8" stroke-width="1.5"/>
<path d="M320.1 182.6 L329.0 187.3"/>
<path d="M323.8 186.2 L326.9 188.3 L331.0 187.8"/>
<path d="M320.1 191.5 L331.0 187.8 L336.2 190.4"/>
<path d="M334.2 181.0 L336.2 189.4 L355.0 180.0"/>
<path d="M334.2 181.0 L338.3 180.0"/>
<path d="M342.5 180.0 L349.8 183.1"/>
<path d="M336.2 190.4 C337.4 191.1 346.7 196.4 347.7 197.2 C348.8 198.0 347.2 198.3 346.7 198.8 C346.1 199.2 343.5 201.0 342.5 201.4 C341.5 201.7 337.5 202.1 336.2 201.9 C335.0 201.7 331.5 200.1 330.0 199.3 C328.5 198.5 322.5 194.6 321.7 194.1"/>
<ellipse cx="321.1" cy="205.0" rx="6.8" ry="4.2" stroke-width="1.4"/>
<ellipse cx="320.8" cy="205.0" rx="4.2" ry="2.3"/>
<path d="M319.1 203.4 L319.1 208.1"/>
<path d="M316.5 206.0 L322.7 205.0"/>
<path d="M311.8 208.6 C311.8 209.0 310.7 210.8 312.3 211.2 C313.9 211.7 321.9 212.4 323.8 212.3 C325.6 212.2 325.2 210.9 325.8 210.2 C326.5 209.5 328.1 207.5 328.4 207.1"/>
<path d="M311.8 208.6 C311.7 209.4 310.9 212.9 311.2 214.4 C311.6 215.8 314.2 218.6 314.4 219.6 C314.5 220.6 313.3 220.8 312.3 221.7 C311.3 222.5 307.8 225.3 307.1 225.8"/>
<path d="M319.6 192.5 C318.7 192.4 315.9 191.9 314.4 192.0 C312.9 192.1 311.4 192.2 310.7 193.0 C310.0 193.8 309.9 195.4 310.2 196.7 C310.5 198.0 311.4 199.9 312.3 200.8 C313.2 201.8 314.9 202.1 315.4 202.4"/>
<path d="M293.5 202.4 C293.5 202.7 292.7 203.8 293.0 204.5 C293.3 205.2 294.2 207.1 295.6 207.6 C297.1 208.1 302.4 208.5 304.0 208.1 C305.5 207.8 306.2 205.5 307.1 205.0 C307.9 204.5 309.7 204.1 310.2 204.5 C310.8 204.9 311.1 207.6 311.2 208.1"/>
<path d="M280.0 205.0 L281.0 204.0 L282.1 207.1 L293.0 207.1"/>
<path d="M280.0 211.2 L283.1 210.2 L283.6 217.5 L293.5 220.6 L282.1 224.8 L282.6 229.5 L293.5 230.0"/>
<path d="M295.6 212.3 C296.5 211.4 299.1 209.7 300.3 210.2 C301.6 210.7 302.9 213.2 304.0 215.4 C305.1 217.6 307.8 222.9 307.6 224.8 C307.4 226.7 303.9 228.1 302.4 227.9 C300.9 227.8 298.9 225.5 297.7 223.8 C296.5 222.0 294.9 218.2 294.6 216.5 C294.3 214.7 294.8 213.2 295.6 212.3 Z"/>
<path d="M300.3 210.2 L305.0 208.6"/>
<path d="M307.6 224.8 L314.4 219.6"/>
<path d="M293.5 220.6 L297.7 223.8"/>
<path d="M293.5 230.0 L295.6 231.0 L296.7 239.9"/>
<path d="M295.6 230.0 C296.5 230.2 299.3 230.0 300.8 231.0 C302.4 232.1 304.5 234.8 305.0 236.2 C305.5 237.7 304.1 239.3 304.0 239.9"/>
<path d="M323.8 212.3 L323.8 220.1 L318.5 221.1 L319.1 224.8 L321.7 226.9 L339.4 236.8"/>
<path d="M319.1 221.1 L341.5 229.0"/>
<path d="M324.8 212.8 L325.8 216.5 L327.9 217.5"/>
<path d="M332.1 218.0 L333.1 221.7 L340.4 227.9"/>
<path d="M329.0 208.1 C330.0 208.4 337.6 210.5 339.4 211.2 C341.1 212.0 345.1 215.7 346.7 215.9 C348.2 216.1 353.7 214.0 355.0 213.3 C356.3 212.7 359.5 209.6 360.0 209.2"/>
<path d="M342.5 203.4 C344.0 203.7 351.9 205.7 354.0 205.5 C356.0 205.3 357.1 202.4 357.6 201.9"/>
<path d="M358.6 195.6 L359.2 199.8" stroke-width="1.8"/>
<ellipse cx="346.7" cy="222.7" rx="3.4" ry="5.2" transform="rotate(20 346.7 222.7)"/>
<path d="M342.5 239.9 L341.5 232.1 L342.5 226.9"/>
<path d="M340.4 239.9 L339.9 234.2"/>
<path d="M346.7 215.9 L343.5 221.7"/>
<path d="M352.9 219.6 L351.9 225.8 L355.0 227.9 L355.0 239.9"/>
<path d="M357.1 218.5 L360.0 217.5"/>
<path d="M347.7 234.2 L352.9 236.8 L354.0 239.9"/>
<path d="M344.6 230.0 L346.7 225.8 L352.9 227.9"/>
<path d="M307.1 225.8 L325.8 231.0 L319.6 235.2 L317.5 239.9"/>
<path d="M280.0 233.1 C280.8 233.5 284.7 235.3 286.2 236.2 C287.8 237.2 290.8 239.4 291.5 239.9"/>
<path d="M325.8 231.0 L338.3 236.2"/>
<polygon points="620.5,355.5 699.5,355.5 699.5,389.4 682.5,414.5 620.5,414.5" fill="#fff" stroke="none"/>
<path d="M637.2 356.6 C638.3 357.0 641.3 358.6 644.0 359.2 C646.6 359.8 651.2 360.3 653.3 360.2 C655.4 360.1 655.9 358.9 656.5 358.6"/>
<path d="M637.7 360.2 C638.8 360.9 644.7 364.4 646.0 365.4 C647.4 366.5 647.8 367.7 648.1 368.0"/>
<ellipse cx="639.8" cy="370.6" rx="8.1" ry="4.7" transform="rotate(-5 639.8 370.6)" stroke-width="1.3"/>
<path d="M620.0 370.6 C620.7 371.1 622.3 373.2 624.2 373.2 C626.1 373.2 630.2 371.1 631.5 370.6"/>
<path d="M620.0 377.4 L625.7 380.5"/>
<path d="M648.1 368.0 L665.8 363.3"/>
<ellipse cx="674.7" cy="360.7" rx="8.3" ry="4.7"/>
<path d="M668.4 365.4 L668.4 377.9"/>
<path d="M683.0 363.3 L683.0 369.6"/>
<path d="M649.7 374.3 C649.9 373.4 652.0 372.0 653.3 371.7 C654.6 371.3 656.3 371.6 657.5 372.2 C658.7 372.8 660.8 374.4 660.6 375.3 C660.5 376.2 657.8 377.1 656.5 377.4 C655.1 377.7 653.4 377.4 652.3 376.9 C651.2 376.4 649.5 375.1 649.7 374.3 Z" stroke-width="1.3"/>
<path d="M660.6 375.3 L657.5 389.4 L654.4 391.5"/>
<path d="M660.6 375.3 L668.4 377.9 L678.3 383.1"/>
<path d="M633.5 383.6 C634.7 382.9 637.5 380.1 639.8 379.5 C642.1 378.9 644.5 379.5 646.0 380.5 C647.6 381.6 648.3 383.7 648.1 385.2 C647.9 386.7 646.6 388.1 645.0 388.9 C643.4 389.6 640.3 389.3 639.3 389.4"/>
<path d="M648.1 382.1 L659.6 376.9"/>
<path d="M629.9 383.1 C630.6 383.6 633.5 385.0 634.6 386.2 C635.7 387.5 637.0 390.0 637.2 391.5 C637.3 392.9 636.6 395.7 635.6 396.1 C634.6 396.6 631.2 394.8 630.4 394.6" stroke-width="1.3"/>
<path d="M630.4 394.6 L629.9 383.1" stroke-width="1.3"/>
<path d="M672.1 379.0 L672.1 368.0 L678.3 368.0 L684.6 371.7 L686.7 374.8"/>
<path d="M678.3 383.1 L681.5 379.5 L686.7 382.6 L692.9 385.7"/>
<path d="M691.9 355.0 L686.7 357.1 L685.6 361.2 L685.6 372.7 L688.2 375.3 L692.9 365.4 L700.0 364.4"/>
<path d="M688.2 362.3 L692.9 365.4"/>
<path d="M688.2 375.3 L700.0 383.1"/>
<path d="M692.9 385.7 L700.0 383.6"/>
<path d="M666.9 387.3 L670.0 384.7 L674.2 385.2 L677.8 388.3 L670.0 394.1 L666.9 393.5 Z"/>
<path d="M666.9 387.3 L666.4 397.7 L667.9 402.9"/>
<path d="M642.4 398.2 L645.0 394.6 L653.3 390.9 L665.8 396.7"/>
<path d="M642.4 398.2 L663.8 408.1"/>
<path d="M643.4 398.8 L642.4 401.9 L636.1 399.8 L635.6 398.8"/>
<path d="M649.2 394.1 L665.8 402.9"/>
<path d="M634.6 403.4 L651.2 414.9"/>
<path d="M642.4 401.9 L660.6 414.9"/>
<path d="M670.0 394.1 L678.3 388.3 L690.8 385.2 L700.0 382.1"/>
<path d="M670.0 394.1 L670.0 398.8 L674.2 407.1 L673.1 414.9"/>
<path d="M674.2 392.5 L690.8 386.2"/>
<path d="M674.2 396.7 L674.2 406.0"/>
<ellipse cx="688.2" cy="396.1" rx="2.8" ry="4.0" transform="rotate(20 688.2 396.1)"/>
<path d="M663.8 408.1 L667.9 404.0 L672.1 406.0 L665.8 414.9"/>
<path d="M669.0 414.9 L674.2 407.1"/>
<path d="M620.0 389.4 C620.5 389.6 623.0 390.9 624.2 391.5 C625.3 392.1 629.2 393.6 629.9 394.6 C630.6 395.6 631.1 398.0 630.4 399.8 C629.7 401.6 624.5 408.4 624.2 410.2 C623.8 412.0 626.9 414.3 627.3 414.9"/>
<path d="M623.1 393.5 L630.4 399.8"/>
<path d="M620.0 407.1 L624.2 410.2"/>
<path d="M620.0 390.4 L621.6 405.0"/>
<ellipse cx="673.4" cy="413.4" rx="2.1" ry="3.4" transform="rotate(15 673.4 413.4)" stroke-width="1.2"/>
<ellipse cx="676.5" cy="412.9" rx="0.9" ry="2.5" transform="rotate(15 676.5 412.9)" stroke-width="1.3"/>
<path d="M667.2 391.6 L665.6 402.5 L668.8 408.8 L664.3 414.5"/>
</g><defs><filter id="hl" x="-20%" y="-60%" width="140%" height="220%"><feGaussianBlur stdDeviation="2.6"/></filter><filter id="hl2" x="-20%" y="-60%" width="140%" height="220%"><feGaussianBlur stdDeviation="1.8"/></filter></defs><rect x="453.5" y="320.5" width="82" height="20" rx="5" fill="#e2f2ac" filter="url(#hl)"/><rect x="457.5" y="323" width="75" height="15.5" rx="4" fill="#d7ec8e" opacity="0.85" filter="url(#hl2)"/><g fill="none" stroke="#323f0c" stroke-width="1.0" stroke-linecap="round" stroke-linejoin="round">
<path d="M467.4 323.4 L460.5 323.4 L459.3 324.7 L459.3 334.3 L460.5 335.5 L467.4 335.5 L467.4 329.7 L463.2 329.7"/>
<path d="M480.6 328.2 L479.4 329.5 L473.8 329.5 L472.5 328.2 L472.5 324.7 L473.8 323.4 L479.4 323.4 L480.6 324.7 L480.6 330.1 L475.4 335.5 L474.0 335.5"/>
<path d="M486.0 323.4 L492.9 323.4 L494.2 324.7 L494.2 328.2 L492.9 329.5 L489.0 329.5"/>
<path d="M492.9 329.5 L494.2 330.7 L494.2 334.3 L492.9 335.5 L486.0 335.5"/>
<path d="M499.2 324.7 L500.4 323.4 L506.0 323.4 L507.3 324.7 L507.3 328.2 L506.0 329.5 L500.4 329.5 L499.2 330.7 L499.2 335.5 L507.3 335.5"/>
<path d="M513.0 323.4 L518.6 323.4 L519.9 324.7 L519.9 334.3 L518.6 335.5 L513.0 335.5 L511.8 334.3 L511.8 324.7 Z"/>
<path d="M524.0 323.4 L530.8 323.4 L532.1 324.7 L532.1 328.2 L530.8 329.5 L526.9 329.5"/>
<path d="M530.8 329.5 L532.1 330.7 L532.1 334.3 L530.8 335.5 L524.0 335.5"/>
</g><g fill="none" stroke="#151515" stroke-width="1.1" stroke-linecap="round" stroke-linejoin="round">
</g>

</svg>
</body></html>
